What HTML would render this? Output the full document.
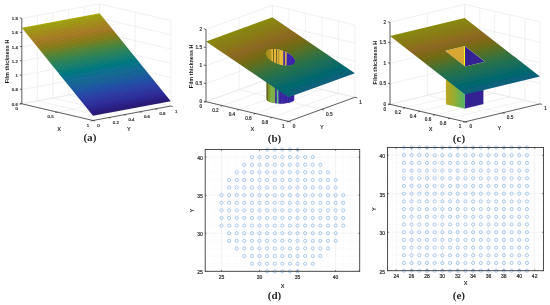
<!DOCTYPE html><html><head><meta charset="utf-8"><style>html,body{margin:0;padding:0;background:#fff;overflow:hidden}svg{display:block}</style></head><body><svg width="550" height="305" viewBox="0 0 550 305"><defs><linearGradient id="ga" gradientUnits="userSpaceOnUse" x1="21.8" y1="27.85" x2="40.02" y2="125.63"><stop offset="0" stop-color="#a8a90e"/><stop offset="0.03" stop-color="#a5a116"/><stop offset="0.06" stop-color="#a5991a"/><stop offset="0.09" stop-color="#a8901e"/><stop offset="0.12" stop-color="#ab8822"/><stop offset="0.16" stop-color="#ab8028"/><stop offset="0.19" stop-color="#a27d25"/><stop offset="0.22" stop-color="#967f1c"/><stop offset="0.25" stop-color="#87821c"/><stop offset="0.28" stop-color="#768525"/><stop offset="0.31" stop-color="#638832"/><stop offset="0.34" stop-color="#508940"/><stop offset="0.38" stop-color="#3e894f"/><stop offset="0.41" stop-color="#2d885d"/><stop offset="0.44" stop-color="#238669"/><stop offset="0.47" stop-color="#1b8373"/><stop offset="0.5" stop-color="#0c807c"/><stop offset="0.53" stop-color="#017c85"/><stop offset="0.56" stop-color="#08788e"/><stop offset="0.59" stop-color="#117395"/><stop offset="0.62" stop-color="#166e99"/><stop offset="0.66" stop-color="#1a679c"/><stop offset="0.69" stop-color="#1d61a1"/><stop offset="0.72" stop-color="#1f5aa7"/><stop offset="0.75" stop-color="#2352aa"/><stop offset="0.78" stop-color="#2a4aab"/><stop offset="0.81" stop-color="#2e42aa"/><stop offset="0.84" stop-color="#303ba6"/><stop offset="0.88" stop-color="#3033a1"/><stop offset="0.91" stop-color="#302c9a"/><stop offset="0.94" stop-color="#2e258f"/><stop offset="0.97" stop-color="#2c1f81"/><stop offset="1" stop-color="#2a1a71"/></linearGradient><clipPath id="holeb"><polygon points="291.75,64.98 292.21,64.79 292.64,64.59 293.04,64.37 293.4,64.12 293.72,63.86 294.01,63.58 294.26,63.29 294.48,62.97 294.65,62.64 294.79,62.3 294.88,61.94 294.94,61.57 294.96,61.19 294.94,60.8 294.87,60.4 294.77,59.99 294.63,59.57 294.45,59.15 294.24,58.72 293.98,58.29 293.69,57.86 293.36,57.42 292.99,56.98 292.59,56.55 292.16,56.12 291.7,55.69 291.2,55.26 290.68,54.84 290.13,54.43 289.55,54.02 288.94,53.63 288.32,53.24 287.67,52.87 287,52.5 286.31,52.16 285.61,51.82 284.89,51.5 284.16,51.2 283.42,50.91 282.68,50.64 281.92,50.39 281.17,50.16 280.41,49.94 279.65,49.75 278.89,49.58 278.14,49.43 277.39,49.3 276.65,49.19 275.93,49.11 275.21,49.05 274.51,49.01 273.82,48.99 273.16,49 272.51,49.03 271.89,49.08 271.29,49.15 270.71,49.25 270.16,49.37 269.64,49.51 269.15,49.67 268.69,49.86 268.26,50.06 267.86,50.28 267.5,50.53 267.18,50.79 266.89,51.07 266.64,51.36 266.42,51.68 266.25,52.01 266.11,52.35 266.02,52.71 265.96,53.08 265.94,53.46 265.96,53.85 266.03,54.25 266.13,54.66 266.27,55.08 266.45,55.5 266.66,55.93 266.92,56.36 267.21,56.79 267.54,57.23 267.91,57.67 268.31,58.1 268.74,58.53 269.2,58.96 269.7,59.39 270.22,59.81 270.77,60.22 271.35,60.63 271.96,61.02 272.58,61.41 273.23,61.78 273.9,62.15 274.59,62.49 275.29,62.83 276.01,63.15 276.74,63.45 277.48,63.74 278.22,64.01 278.98,64.26 279.73,64.49 280.49,64.71 281.25,64.9 282.01,65.07 282.76,65.22 283.51,65.35 284.25,65.46 284.97,65.54 285.69,65.6 286.39,65.64 287.08,65.66 287.74,65.65 288.39,65.62 289.01,65.57 289.61,65.5 290.19,65.4 290.74,65.28 291.26,65.14"/></clipPath><linearGradient id="gb" gradientUnits="userSpaceOnUse" x1="206" y1="41.45" x2="233.51" y2="117.26"><stop offset="0" stop-color="#8a8b0b"/><stop offset="0.03" stop-color="#898710"/><stop offset="0.06" stop-color="#888313"/><stop offset="0.09" stop-color="#887f15"/><stop offset="0.12" stop-color="#897b17"/><stop offset="0.16" stop-color="#8a7719"/><stop offset="0.19" stop-color="#8c731b"/><stop offset="0.22" stop-color="#8d6f1d"/><stop offset="0.25" stop-color="#8d6b20"/><stop offset="0.28" stop-color="#8b6822"/><stop offset="0.31" stop-color="#86671f"/><stop offset="0.34" stop-color="#806819"/><stop offset="0.38" stop-color="#796916"/><stop offset="0.41" stop-color="#726b16"/><stop offset="0.44" stop-color="#6a6c19"/><stop offset="0.47" stop-color="#616e1e"/><stop offset="0.5" stop-color="#586f24"/><stop offset="0.53" stop-color="#4f702c"/><stop offset="0.56" stop-color="#457133"/><stop offset="0.59" stop-color="#3c723a"/><stop offset="0.62" stop-color="#337141"/><stop offset="0.66" stop-color="#2a7148"/><stop offset="0.69" stop-color="#23704f"/><stop offset="0.72" stop-color="#1e6f55"/><stop offset="0.75" stop-color="#1a6d5a"/><stop offset="0.78" stop-color="#166c5f"/><stop offset="0.81" stop-color="#0f6a64"/><stop offset="0.84" stop-color="#076968"/><stop offset="0.88" stop-color="#01676d"/><stop offset="0.91" stop-color="#016671"/><stop offset="0.94" stop-color="#076375"/><stop offset="0.97" stop-color="#0c6179"/><stop offset="1" stop-color="#0f5e7c"/></linearGradient><clipPath id="holec"><polygon points="445.16,50.84 465.17,66.42 485.04,61.66 465.03,46.08"/></clipPath><linearGradient id="gcf" gradientUnits="userSpaceOnUse" x1="446.06" y1="0" x2="464.71" y2="0"><stop offset="0" stop-color="#bea523"/><stop offset="0.12" stop-color="#b3a723"/><stop offset="0.25" stop-color="#a6aa27"/><stop offset="0.38" stop-color="#99ac2f"/><stop offset="0.5" stop-color="#8bae38"/><stop offset="0.62" stop-color="#7db044"/><stop offset="0.75" stop-color="#6eb14f"/><stop offset="0.88" stop-color="#5fb25a"/><stop offset="1" stop-color="#51b266"/></linearGradient><linearGradient id="gc" gradientUnits="userSpaceOnUse" x1="390" y1="35.88" x2="407.35" y2="108.3"><stop offset="0" stop-color="#8a8b0b"/><stop offset="0.03" stop-color="#898710"/><stop offset="0.06" stop-color="#888313"/><stop offset="0.09" stop-color="#887f15"/><stop offset="0.12" stop-color="#897b17"/><stop offset="0.16" stop-color="#8a7719"/><stop offset="0.19" stop-color="#8c731b"/><stop offset="0.22" stop-color="#8d6f1d"/><stop offset="0.25" stop-color="#8d6b20"/><stop offset="0.28" stop-color="#8b6822"/><stop offset="0.31" stop-color="#86671f"/><stop offset="0.34" stop-color="#806819"/><stop offset="0.38" stop-color="#796916"/><stop offset="0.41" stop-color="#726b16"/><stop offset="0.44" stop-color="#6a6c19"/><stop offset="0.47" stop-color="#616e1e"/><stop offset="0.5" stop-color="#586f24"/><stop offset="0.53" stop-color="#4f702c"/><stop offset="0.56" stop-color="#457133"/><stop offset="0.59" stop-color="#3c723a"/><stop offset="0.62" stop-color="#337141"/><stop offset="0.66" stop-color="#2a7148"/><stop offset="0.69" stop-color="#23704f"/><stop offset="0.72" stop-color="#1e6f55"/><stop offset="0.75" stop-color="#1a6d5a"/><stop offset="0.78" stop-color="#166c5f"/><stop offset="0.81" stop-color="#0f6a64"/><stop offset="0.84" stop-color="#076968"/><stop offset="0.88" stop-color="#01676d"/><stop offset="0.91" stop-color="#016671"/><stop offset="0.94" stop-color="#076375"/><stop offset="0.97" stop-color="#0c6179"/><stop offset="1" stop-color="#0f5e7c"/></linearGradient><filter id="bl" x="-2%" y="-2%" width="104%" height="104%"><feGaussianBlur stdDeviation="0.35"/></filter></defs><rect width="550" height="305" fill="#fff"/><g filter="url(#bl)"><line x1="21.8" y1="103.8" x2="99.6" y2="89.3" stroke="#e8e8e8" stroke-width="0.6"/>
<line x1="57.4" y1="112.15" x2="135.2" y2="97.65" stroke="#e8e8e8" stroke-width="0.6"/>
<line x1="93" y1="120.5" x2="170.8" y2="106" stroke="#e8e8e8" stroke-width="0.6"/>
<line x1="21.8" y1="103.8" x2="93" y2="120.5" stroke="#e8e8e8" stroke-width="0.6"/>
<line x1="37.36" y1="100.9" x2="108.56" y2="117.6" stroke="#e8e8e8" stroke-width="0.6"/>
<line x1="52.92" y1="98" x2="124.12" y2="114.7" stroke="#e8e8e8" stroke-width="0.6"/>
<line x1="68.48" y1="95.1" x2="139.68" y2="111.8" stroke="#e8e8e8" stroke-width="0.6"/>
<line x1="84.04" y1="92.2" x2="155.24" y2="108.9" stroke="#e8e8e8" stroke-width="0.6"/>
<line x1="99.6" y1="89.3" x2="170.8" y2="106" stroke="#e8e8e8" stroke-width="0.6"/>
<line x1="21.8" y1="103.8" x2="21.8" y2="18.36" stroke="#e8e8e8" stroke-width="0.6"/>
<line x1="37.36" y1="100.9" x2="37.36" y2="15.46" stroke="#e8e8e8" stroke-width="0.6"/>
<line x1="52.92" y1="98" x2="52.92" y2="12.56" stroke="#e8e8e8" stroke-width="0.6"/>
<line x1="68.48" y1="95.1" x2="68.48" y2="9.66" stroke="#e8e8e8" stroke-width="0.6"/>
<line x1="84.04" y1="92.2" x2="84.04" y2="6.76" stroke="#e8e8e8" stroke-width="0.6"/>
<line x1="99.6" y1="89.3" x2="99.6" y2="3.86" stroke="#e8e8e8" stroke-width="0.6"/>
<line x1="21.8" y1="103.8" x2="99.6" y2="89.3" stroke="#e8e8e8" stroke-width="0.6"/>
<line x1="21.8" y1="89.56" x2="99.6" y2="75.06" stroke="#e8e8e8" stroke-width="0.6"/>
<line x1="21.8" y1="75.32" x2="99.6" y2="60.82" stroke="#e8e8e8" stroke-width="0.6"/>
<line x1="21.8" y1="61.08" x2="99.6" y2="46.58" stroke="#e8e8e8" stroke-width="0.6"/>
<line x1="21.8" y1="46.84" x2="99.6" y2="32.34" stroke="#e8e8e8" stroke-width="0.6"/>
<line x1="21.8" y1="32.6" x2="99.6" y2="18.1" stroke="#e8e8e8" stroke-width="0.6"/>
<line x1="21.8" y1="18.36" x2="99.6" y2="3.86" stroke="#e8e8e8" stroke-width="0.6"/>
<line x1="99.6" y1="89.3" x2="99.6" y2="3.86" stroke="#e8e8e8" stroke-width="0.6"/>
<line x1="135.2" y1="97.65" x2="135.2" y2="12.21" stroke="#e8e8e8" stroke-width="0.6"/>
<line x1="170.8" y1="106" x2="170.8" y2="20.56" stroke="#e8e8e8" stroke-width="0.6"/>
<line x1="99.6" y1="89.3" x2="170.8" y2="106" stroke="#e8e8e8" stroke-width="0.6"/>
<line x1="99.6" y1="75.06" x2="170.8" y2="91.76" stroke="#e8e8e8" stroke-width="0.6"/>
<line x1="99.6" y1="60.82" x2="170.8" y2="77.52" stroke="#e8e8e8" stroke-width="0.6"/>
<line x1="99.6" y1="46.58" x2="170.8" y2="63.28" stroke="#e8e8e8" stroke-width="0.6"/>
<line x1="99.6" y1="32.34" x2="170.8" y2="49.04" stroke="#e8e8e8" stroke-width="0.6"/>
<line x1="99.6" y1="18.1" x2="170.8" y2="34.8" stroke="#e8e8e8" stroke-width="0.6"/>
<line x1="99.6" y1="3.86" x2="170.8" y2="20.56" stroke="#e8e8e8" stroke-width="0.6"/>
<polygon points="21.8,27.85 93,115.75 170.8,101.25 99.6,13.35" fill="url(#ga)"/>
<path d="M23.22,29.61L101.02,15.11M24.65,31.37L102.45,16.87M26.07,33.13L103.87,18.63M27.5,34.89L105.3,20.39M28.92,36.64L106.72,22.14M30.34,38.4L108.14,23.9M31.77,40.16L109.57,25.66M33.19,41.92L110.99,27.42M34.62,43.68L112.42,29.18M36.04,45.43L113.84,30.93M37.46,47.19L115.26,32.69M38.89,48.95L116.69,34.45M40.31,50.71L118.11,36.21M41.74,52.47L119.54,37.97M43.16,54.22L120.96,39.72M44.58,55.98L122.38,41.48M46.01,57.74L123.81,43.24M47.43,59.5L125.23,45M48.86,61.26L126.66,46.76M50.28,63.01L128.08,48.51M51.7,64.77L129.5,50.27M53.13,66.53L130.93,52.03M54.55,68.29L132.35,53.79M55.98,70.05L133.78,55.55M57.4,71.8L135.2,57.3M58.82,73.56L136.62,59.06M60.25,75.32L138.05,60.82M61.67,77.08L139.47,62.58M63.1,78.84L140.9,64.34M64.52,80.59L142.32,66.09M65.94,82.35L143.74,67.85M67.37,84.11L145.17,69.61M68.79,85.87L146.59,71.37M70.22,87.63L148.02,73.13M71.64,89.38L149.44,74.88M73.06,91.14L150.86,76.64M74.49,92.9L152.29,78.4M75.91,94.66L153.71,80.16M77.34,96.42L155.14,81.92M78.76,98.17L156.56,83.67M80.18,99.93L157.98,85.43M81.61,101.69L159.41,87.19M83.03,103.45L160.83,88.95M84.46,105.21L162.26,90.71M85.88,106.96L163.68,92.46M87.3,108.72L165.1,94.22M88.73,110.48L166.53,95.98M90.15,112.24L167.95,97.74M91.58,114L169.38,99.5" stroke="#000" stroke-opacity="0.14" stroke-width="0.5" fill="none"/>
<line x1="21.8" y1="103.8" x2="21.8" y2="18.36" stroke="#3a3a3a" stroke-width="0.8"/>
<line x1="21.8" y1="103.8" x2="93" y2="120.5" stroke="#3a3a3a" stroke-width="0.8"/>
<line x1="93" y1="120.5" x2="170.8" y2="106" stroke="#3a3a3a" stroke-width="0.8"/>
<line x1="21.8" y1="103.8" x2="19.81" y2="103.33" stroke="#3a3a3a" stroke-width="0.75"/>
<line x1="21.8" y1="89.56" x2="19.81" y2="89.09" stroke="#3a3a3a" stroke-width="0.75"/>
<line x1="21.8" y1="75.32" x2="19.81" y2="74.85" stroke="#3a3a3a" stroke-width="0.75"/>
<line x1="21.8" y1="61.08" x2="19.81" y2="60.61" stroke="#3a3a3a" stroke-width="0.75"/>
<line x1="21.8" y1="46.84" x2="19.81" y2="46.37" stroke="#3a3a3a" stroke-width="0.75"/>
<line x1="21.8" y1="32.6" x2="19.81" y2="32.13" stroke="#3a3a3a" stroke-width="0.75"/>
<line x1="21.8" y1="18.36" x2="19.81" y2="17.89" stroke="#3a3a3a" stroke-width="0.75"/>
<line x1="21.8" y1="103.8" x2="19.62" y2="104.21" stroke="#3a3a3a" stroke-width="0.75"/>
<line x1="57.4" y1="112.15" x2="55.22" y2="112.56" stroke="#3a3a3a" stroke-width="0.75"/>
<line x1="93" y1="120.5" x2="90.82" y2="120.91" stroke="#3a3a3a" stroke-width="0.75"/>
<line x1="93" y1="120.5" x2="94.99" y2="120.97" stroke="#3a3a3a" stroke-width="0.75"/>
<line x1="108.56" y1="117.6" x2="110.55" y2="118.07" stroke="#3a3a3a" stroke-width="0.75"/>
<line x1="124.12" y1="114.7" x2="126.11" y2="115.17" stroke="#3a3a3a" stroke-width="0.75"/>
<line x1="139.68" y1="111.8" x2="141.67" y2="112.27" stroke="#3a3a3a" stroke-width="0.75"/>
<line x1="155.24" y1="108.9" x2="157.23" y2="109.37" stroke="#3a3a3a" stroke-width="0.75"/>
<line x1="170.8" y1="106" x2="172.79" y2="106.47" stroke="#3a3a3a" stroke-width="0.75"/>
<line x1="206" y1="101.7" x2="272.4" y2="77.6" stroke="#e8e8e8" stroke-width="0.6"/>
<line x1="222.5" y1="105.64" x2="288.9" y2="81.54" stroke="#e8e8e8" stroke-width="0.6"/>
<line x1="239" y1="109.58" x2="305.4" y2="85.48" stroke="#e8e8e8" stroke-width="0.6"/>
<line x1="255.5" y1="113.52" x2="321.9" y2="89.42" stroke="#e8e8e8" stroke-width="0.6"/>
<line x1="272" y1="117.46" x2="338.4" y2="93.36" stroke="#e8e8e8" stroke-width="0.6"/>
<line x1="288.5" y1="121.4" x2="354.9" y2="97.3" stroke="#e8e8e8" stroke-width="0.6"/>
<line x1="206" y1="101.7" x2="288.5" y2="121.4" stroke="#e8e8e8" stroke-width="0.6"/>
<line x1="239.2" y1="89.65" x2="321.7" y2="109.35" stroke="#e8e8e8" stroke-width="0.6"/>
<line x1="272.4" y1="77.6" x2="354.9" y2="97.3" stroke="#e8e8e8" stroke-width="0.6"/>
<line x1="206" y1="101.7" x2="206" y2="29.4" stroke="#e8e8e8" stroke-width="0.6"/>
<line x1="239.2" y1="89.65" x2="239.2" y2="17.35" stroke="#e8e8e8" stroke-width="0.6"/>
<line x1="272.4" y1="77.6" x2="272.4" y2="5.3" stroke="#e8e8e8" stroke-width="0.6"/>
<line x1="206" y1="101.7" x2="272.4" y2="77.6" stroke="#e8e8e8" stroke-width="0.6"/>
<line x1="206" y1="83.62" x2="272.4" y2="59.52" stroke="#e8e8e8" stroke-width="0.6"/>
<line x1="206" y1="65.55" x2="272.4" y2="41.45" stroke="#e8e8e8" stroke-width="0.6"/>
<line x1="206" y1="47.48" x2="272.4" y2="23.38" stroke="#e8e8e8" stroke-width="0.6"/>
<line x1="206" y1="29.4" x2="272.4" y2="5.3" stroke="#e8e8e8" stroke-width="0.6"/>
<line x1="272.4" y1="77.6" x2="272.4" y2="5.3" stroke="#e8e8e8" stroke-width="0.6"/>
<line x1="288.9" y1="81.54" x2="288.9" y2="9.24" stroke="#e8e8e8" stroke-width="0.6"/>
<line x1="305.4" y1="85.48" x2="305.4" y2="13.18" stroke="#e8e8e8" stroke-width="0.6"/>
<line x1="321.9" y1="89.42" x2="321.9" y2="17.12" stroke="#e8e8e8" stroke-width="0.6"/>
<line x1="338.4" y1="93.36" x2="338.4" y2="21.06" stroke="#e8e8e8" stroke-width="0.6"/>
<line x1="354.9" y1="97.3" x2="354.9" y2="25" stroke="#e8e8e8" stroke-width="0.6"/>
<line x1="272.4" y1="77.6" x2="354.9" y2="97.3" stroke="#e8e8e8" stroke-width="0.6"/>
<line x1="272.4" y1="59.52" x2="354.9" y2="79.23" stroke="#e8e8e8" stroke-width="0.6"/>
<line x1="272.4" y1="41.45" x2="354.9" y2="61.15" stroke="#e8e8e8" stroke-width="0.6"/>
<line x1="272.4" y1="23.38" x2="354.9" y2="43.08" stroke="#e8e8e8" stroke-width="0.6"/>
<line x1="272.4" y1="5.3" x2="354.9" y2="25" stroke="#e8e8e8" stroke-width="0.6"/>
<g clip-path="url(#holeb)">
<polygon points="294.96,61.19 294.95,61 293.63,99.42 293.63,99.52" fill="#3e26a8" stroke="#3e26a8" stroke-width="0.35"/>
<polygon points="294.95,61 294.94,60.8 293.61,99.31 293.63,99.42" fill="#3e26a8" stroke="#3e26a8" stroke-width="0.35"/>
<polygon points="294.94,60.8 294.91,60.6 293.59,99.21 293.61,99.31" fill="#3e26a8" stroke="#3e26a8" stroke-width="0.35"/>
<polygon points="294.91,60.6 294.87,60.4 293.56,99.11 293.59,99.21" fill="#3e26a8" stroke="#3e26a8" stroke-width="0.35"/>
<polygon points="294.87,60.4 294.83,60.2 293.52,99.01 293.56,99.11" fill="#3e26a8" stroke="#3e26a8" stroke-width="0.35"/>
<polygon points="294.83,60.2 294.77,59.99 293.47,98.91 293.52,99.01" fill="#3e26a8" stroke="#3e26a8" stroke-width="0.35"/>
<polygon points="294.77,59.99 294.71,59.78 293.41,98.81 293.47,98.91" fill="#3e26a8" stroke="#3e26a8" stroke-width="0.35"/>
<polygon points="294.71,59.78 294.63,59.57 293.34,98.71 293.41,98.81" fill="#3e26a8" stroke="#3e26a8" stroke-width="0.35"/>
<polygon points="294.63,59.57 294.55,59.36 293.26,98.61 293.34,98.71" fill="#3e26a8" stroke="#3e26a8" stroke-width="0.35"/>
<polygon points="294.55,59.36 294.45,59.15 293.18,98.51 293.26,98.61" fill="#3e26a8" stroke="#3e26a8" stroke-width="0.35"/>
<polygon points="294.45,59.15 294.35,58.94 293.08,98.42 293.18,98.51" fill="#3e26a8" stroke="#3e26a8" stroke-width="0.35"/>
<polygon points="294.35,58.94 294.24,58.72 292.98,98.32 293.08,98.42" fill="#3e26a8" stroke="#3e26a8" stroke-width="0.35"/>
<polygon points="294.24,58.72 294.11,58.51 292.87,98.22 292.98,98.32" fill="#3e26a8" stroke="#3e26a8" stroke-width="0.35"/>
<polygon points="294.11,58.51 293.98,58.29 292.74,98.13 292.87,98.22" fill="#3e26a8" stroke="#3e26a8" stroke-width="0.35"/>
<polygon points="293.98,58.29 293.84,58.07 292.62,98.03 292.74,98.13" fill="#3e26a8" stroke="#3e26a8" stroke-width="0.35"/>
<polygon points="293.84,58.07 293.69,57.86 292.48,97.94 292.62,98.03" fill="#3e26a8" stroke="#3e26a8" stroke-width="0.35"/>
<polygon points="293.69,57.86 293.53,57.64 292.33,97.85 292.48,97.94" fill="#3e26a8" stroke="#3e26a8" stroke-width="0.35"/>
<polygon points="293.53,57.64 293.36,57.42 292.18,97.76 292.33,97.85" fill="#3e26a8" stroke="#3e26a8" stroke-width="0.35"/>
<polygon points="293.36,57.42 293.18,57.2 292.02,97.67 292.18,97.76" fill="#3e26a8" stroke="#3e26a8" stroke-width="0.35"/>
<polygon points="293.18,57.2 292.99,56.98 291.85,97.58 292.02,97.67" fill="#3e26a8" stroke="#3e26a8" stroke-width="0.35"/>
<polygon points="292.99,56.98 292.8,56.77 291.67,97.49 291.85,97.58" fill="#3e26a8" stroke="#3e26a8" stroke-width="0.35"/>
<polygon points="292.8,56.77 292.59,56.55 291.49,97.4 291.67,97.49" fill="#3e26a8" stroke="#3e26a8" stroke-width="0.35"/>
<polygon points="292.59,56.55 292.38,56.33 291.29,97.32 291.49,97.4" fill="#3e26a8" stroke="#3e26a8" stroke-width="0.35"/>
<polygon points="292.38,56.33 292.16,56.12 291.09,97.24 291.29,97.32" fill="#3e26a8" stroke="#3e26a8" stroke-width="0.35"/>
<polygon points="292.16,56.12 291.93,55.9 290.89,97.16 291.09,97.24" fill="#3e26a8" stroke="#3e26a8" stroke-width="0.35"/>
<polygon points="291.93,55.9 291.7,55.69 290.67,97.08 290.89,97.16" fill="#3e26a8" stroke="#3e26a8" stroke-width="0.35"/>
<polygon points="291.7,55.69 291.45,55.47 290.45,97 290.67,97.08" fill="#3e26a8" stroke="#3e26a8" stroke-width="0.35"/>
<polygon points="291.45,55.47 291.2,55.26 290.22,96.92 290.45,97" fill="#3e26a8" stroke="#3e26a8" stroke-width="0.35"/>
<polygon points="291.2,55.26 290.94,55.05 289.99,96.85 290.22,96.92" fill="#3e26a8" stroke="#3e26a8" stroke-width="0.35"/>
<polygon points="290.94,55.05 290.68,54.84 289.75,96.77 289.99,96.85" fill="#3e26a8" stroke="#3e26a8" stroke-width="0.35"/>
<polygon points="290.68,54.84 290.41,54.63 289.5,96.7 289.75,96.77" fill="#3e26a8" stroke="#3e26a8" stroke-width="0.35"/>
<polygon points="290.41,54.63 290.13,54.43 289.24,96.63 289.5,96.7" fill="#3e26a8" stroke="#3e26a8" stroke-width="0.35"/>
<polygon points="290.13,54.43 289.84,54.22 288.98,96.56 289.24,96.63" fill="#3e26a8" stroke="#3e26a8" stroke-width="0.35"/>
<polygon points="289.84,54.22 289.55,54.02 288.72,96.5 288.98,96.56" fill="#3e26a8" stroke="#3e26a8" stroke-width="0.35"/>
<polygon points="289.55,54.02 289.25,53.82 288.45,96.44 288.72,96.5" fill="#3e26a8" stroke="#3e26a8" stroke-width="0.35"/>
<polygon points="289.25,53.82 288.94,53.63 288.17,96.38 288.45,96.44" fill="#3e26a8" stroke="#3e26a8" stroke-width="0.35"/>
<polygon points="288.94,53.63 288.63,53.43 287.89,96.32 288.17,96.38" fill="#3e26a8" stroke="#3e26a8" stroke-width="0.35"/>
<polygon points="288.63,53.43 288.32,53.24 287.6,96.26 287.89,96.32" fill="#3e26a8" stroke="#3e26a8" stroke-width="0.35"/>
<polygon points="288.32,53.24 287.99,53.05 287.31,96.21 287.6,96.26" fill="#3e26a8" stroke="#3e26a8" stroke-width="0.35"/>
<polygon points="287.99,53.05 287.67,52.87 287.01,96.15 287.31,96.21" fill="#3e26a8" stroke="#3e26a8" stroke-width="0.35"/>
<polygon points="287.67,52.87 287.33,52.68 286.71,96.1 287.01,96.15" fill="#3e26a8" stroke="#3e26a8" stroke-width="0.35"/>
<polygon points="287.33,52.68 287,52.5 286.4,96.06 286.71,96.1" fill="#3e26a8" stroke="#3e26a8" stroke-width="0.35"/>
<polygon points="287,52.5 286.66,52.33 286.09,96.01 286.4,96.06" fill="#3e26a8" stroke="#3e26a8" stroke-width="0.35"/>
<polygon points="286.66,52.33 286.31,52.16 285.78,95.97 286.09,96.01" fill="#3e26a8" stroke="#3e26a8" stroke-width="0.35"/>
<polygon points="286.31,52.16 285.96,51.99 285.46,95.93 285.78,95.97" fill="#eaba31" stroke="#eaba31" stroke-width="0.35"/>
<polygon points="285.96,51.99 285.61,51.82 285.14,95.89 285.46,95.93" fill="#eaba31" stroke="#eaba31" stroke-width="0.35"/>
<polygon points="285.61,51.82 285.25,51.66 284.81,95.85 285.14,95.89" fill="#eaba31" stroke="#eaba31" stroke-width="0.35"/>
<polygon points="285.25,51.66 284.89,51.5 284.49,95.82 284.81,95.85" fill="#eaba31" stroke="#eaba31" stroke-width="0.35"/>
<polygon points="284.89,51.5 284.53,51.35 284.16,95.79 284.49,95.82" fill="#3e26a8" stroke="#3e26a8" stroke-width="0.35"/>
<polygon points="284.53,51.35 284.16,51.2 283.82,95.76 284.16,95.79" fill="#3e26a8" stroke="#3e26a8" stroke-width="0.35"/>
<polygon points="284.16,51.2 283.79,51.05 283.49,95.74 283.82,95.76" fill="#3e26a8" stroke="#3e26a8" stroke-width="0.35"/>
<polygon points="283.79,51.05 283.42,50.91 283.15,95.71 283.49,95.74" fill="#3e26a8" stroke="#3e26a8" stroke-width="0.35"/>
<polygon points="283.42,50.91 283.05,50.77 282.81,95.69 283.15,95.71" fill="#3e26a8" stroke="#3e26a8" stroke-width="0.35"/>
<polygon points="283.05,50.77 282.68,50.64 282.47,95.68 282.81,95.69" fill="#eaba31" stroke="#eaba31" stroke-width="0.35"/>
<polygon points="282.68,50.64 282.3,50.51 282.13,95.66 282.47,95.68" fill="#eaba31" stroke="#eaba31" stroke-width="0.35"/>
<polygon points="282.3,50.51 281.92,50.39 281.79,95.65 282.13,95.66" fill="#eaba31" stroke="#eaba31" stroke-width="0.35"/>
<polygon points="281.92,50.39 281.55,50.27 281.45,95.64 281.79,95.65" fill="#eaba31" stroke="#eaba31" stroke-width="0.35"/>
<polygon points="281.55,50.27 281.17,50.16 281.1,95.63 281.45,95.64" fill="#eaba31" stroke="#eaba31" stroke-width="0.35"/>
<polygon points="281.17,50.16 280.79,50.05 280.76,95.63 281.1,95.63" fill="#eaba31" stroke="#eaba31" stroke-width="0.35"/>
<polygon points="280.79,50.05 280.41,49.94 280.41,95.62 280.76,95.63" fill="#eaba31" stroke="#eaba31" stroke-width="0.35"/>
<polygon points="280.41,49.94 280.03,49.85 280.07,95.63 280.41,95.62" fill="#eaba31" stroke="#eaba31" stroke-width="0.35"/>
<polygon points="280.03,49.85 279.65,49.75 279.72,95.63 280.07,95.63" fill="#eaba31" stroke="#eaba31" stroke-width="0.35"/>
<polygon points="279.65,49.75 279.27,49.66 279.38,95.64 279.72,95.63" fill="#eaba31" stroke="#eaba31" stroke-width="0.35"/>
<polygon points="279.27,49.66 278.89,49.58 279.03,95.64 279.38,95.64" fill="#eaba31" stroke="#eaba31" stroke-width="0.35"/>
<polygon points="278.89,49.58 278.51,49.5 278.69,95.66 279.03,95.64" fill="#6a6a30" stroke="#6a6a30" stroke-width="0.35"/>
<polygon points="278.51,49.5 278.14,49.43 278.35,95.67 278.69,95.66" fill="#6a6a30" stroke="#6a6a30" stroke-width="0.35"/>
<polygon points="278.14,49.43 277.76,49.36 278.01,95.69 278.35,95.67" fill="#eaba31" stroke="#eaba31" stroke-width="0.35"/>
<polygon points="277.76,49.36 277.39,49.3 277.67,95.71 278.01,95.69" fill="#eaba31" stroke="#eaba31" stroke-width="0.35"/>
<polygon points="277.39,49.3 277.02,49.24 277.33,95.73 277.67,95.71" fill="#eaba31" stroke="#eaba31" stroke-width="0.35"/>
<polygon points="277.02,49.24 276.65,49.19 277,95.75 277.33,95.73" fill="#eaba31" stroke="#eaba31" stroke-width="0.35"/>
<polygon points="276.65,49.19 276.29,49.15 276.67,95.78 277,95.75" fill="#3a3a20" stroke="#3a3a20" stroke-width="0.35"/>
<polygon points="276.29,49.15 275.93,49.11 276.34,95.81 276.67,95.78" fill="#3a3a20" stroke="#3a3a20" stroke-width="0.35"/>
<polygon points="275.93,49.11 275.57,49.08 276.01,95.84 276.34,95.81" fill="#eaba31" stroke="#eaba31" stroke-width="0.35"/>
<polygon points="275.57,49.08 275.21,49.05 275.69,95.88 276.01,95.84" fill="#eaba31" stroke="#eaba31" stroke-width="0.35"/>
<polygon points="275.21,49.05 274.86,49.03 275.37,95.91 275.69,95.88" fill="#eaba31" stroke="#eaba31" stroke-width="0.35"/>
<polygon points="274.86,49.03 274.51,49.01 275.05,95.95 275.37,95.91" fill="#eaba31" stroke="#eaba31" stroke-width="0.35"/>
<polygon points="274.51,49.01 274.16,49 274.74,95.99 275.05,95.95" fill="#eaba31" stroke="#eaba31" stroke-width="0.35"/>
<polygon points="274.16,49 273.82,48.99 274.43,96.04 274.74,95.99" fill="#eaba31" stroke="#eaba31" stroke-width="0.35"/>
<polygon points="273.82,48.99 273.49,48.99 274.12,96.09 274.43,96.04" fill="#eaba31" stroke="#eaba31" stroke-width="0.35"/>
<polygon points="273.49,48.99 273.16,49 273.82,96.13 274.12,96.09" fill="#3a3a20" stroke="#3a3a20" stroke-width="0.35"/>
<polygon points="273.16,49 272.83,49.01 273.53,96.19 273.82,96.13" fill="#3a3a20" stroke="#3a3a20" stroke-width="0.35"/>
<polygon points="272.83,49.01 272.51,49.03 273.24,96.24 273.53,96.19" fill="#eaba31" stroke="#eaba31" stroke-width="0.35"/>
<polygon points="272.51,49.03 272.2,49.05 272.95,96.3 273.24,96.24" fill="#eaba31" stroke="#eaba31" stroke-width="0.35"/>
<polygon points="272.2,49.05 271.89,49.08 272.67,96.35 272.95,96.3" fill="#eaba31" stroke="#eaba31" stroke-width="0.35"/>
<polygon points="271.89,49.08 271.58,49.11 272.39,96.41 272.67,96.35" fill="#eaba31" stroke="#eaba31" stroke-width="0.35"/>
<polygon points="271.58,49.11 271.29,49.15 272.12,96.48 272.39,96.41" fill="#eaba31" stroke="#eaba31" stroke-width="0.35"/>
<polygon points="271.29,49.15 270.99,49.2 271.86,96.54 272.12,96.48" fill="#eaba31" stroke="#eaba31" stroke-width="0.35"/>
<polygon points="270.99,49.2 270.71,49.25 271.6,96.61 271.86,96.54" fill="#ad9320" stroke="#ad9320" stroke-width="0.35"/>
<polygon points="270.71,49.25 270.43,49.31 271.35,96.68 271.6,96.61" fill="#ad9320" stroke="#ad9320" stroke-width="0.35"/>
<polygon points="270.43,49.31 270.16,49.37 271.1,96.75 271.35,96.68" fill="#ad9320" stroke="#ad9320" stroke-width="0.35"/>
<polygon points="270.16,49.37 269.9,49.44 270.86,96.82 271.1,96.75" fill="#ad9320" stroke="#ad9320" stroke-width="0.35"/>
<polygon points="269.9,49.44 269.64,49.51 270.63,96.89 270.86,96.82" fill="#ad9320" stroke="#ad9320" stroke-width="0.35"/>
<polygon points="269.64,49.51 269.39,49.59 270.4,96.97 270.63,96.89" fill="#ad9320" stroke="#ad9320" stroke-width="0.35"/>
<polygon points="269.39,49.59 269.15,49.67 270.18,97.05 270.4,96.97" fill="#ad9320" stroke="#ad9320" stroke-width="0.35"/>
<polygon points="269.15,49.67 268.91,49.76 269.97,97.13 270.18,97.05" fill="#ad9320" stroke="#ad9320" stroke-width="0.35"/>
<polygon points="268.91,49.76 268.69,49.86 269.76,97.21 269.97,97.13" fill="#ad9320" stroke="#ad9320" stroke-width="0.35"/>
<polygon points="268.69,49.86 268.47,49.96 269.56,97.29 269.76,97.21" fill="#ad9320" stroke="#ad9320" stroke-width="0.35"/>
<polygon points="268.47,49.96 268.26,50.06 269.37,97.37 269.56,97.29" fill="#ad9320" stroke="#ad9320" stroke-width="0.35"/>
<polygon points="268.26,50.06 268.06,50.17 269.19,97.46 269.37,97.37" fill="#ad9320" stroke="#ad9320" stroke-width="0.35"/>
<polygon points="268.06,50.17 267.86,50.28 269.01,97.55 269.19,97.46" fill="#ad9320" stroke="#ad9320" stroke-width="0.35"/>
<polygon points="267.86,50.28 267.68,50.4 268.84,97.64 269.01,97.55" fill="#ad9320" stroke="#ad9320" stroke-width="0.35"/>
<polygon points="267.68,50.4 267.5,50.53 268.68,97.72 268.84,97.64" fill="#ad9320" stroke="#ad9320" stroke-width="0.35"/>
<polygon points="267.5,50.53 267.34,50.66 268.53,97.82 268.68,97.72" fill="#ad9320" stroke="#ad9320" stroke-width="0.35"/>
<polygon points="267.34,50.66 267.18,50.79 268.39,97.91 268.53,97.82" fill="#ad9320" stroke="#ad9320" stroke-width="0.35"/>
<polygon points="267.18,50.79 267.03,50.93 268.25,98 268.39,97.91" fill="#ad9320" stroke="#ad9320" stroke-width="0.35"/>
<polygon points="267.03,50.93 266.89,51.07 268.13,98.09 268.25,98" fill="#ad9320" stroke="#ad9320" stroke-width="0.35"/>
<polygon points="266.89,51.07 266.76,51.21 268.01,98.19 268.13,98.09" fill="#ad9320" stroke="#ad9320" stroke-width="0.35"/>
<polygon points="266.76,51.21 266.64,51.36 267.9,98.29 268.01,98.19" fill="#ad9320" stroke="#ad9320" stroke-width="0.35"/>
<polygon points="266.64,51.36 266.53,51.52 267.8,98.38 267.9,98.29" fill="#ad9320" stroke="#ad9320" stroke-width="0.35"/>
<polygon points="266.53,51.52 266.42,51.68 267.7,98.48 267.8,98.38" fill="#ad9320" stroke="#ad9320" stroke-width="0.35"/>
<polygon points="266.42,51.68 266.33,51.84 267.62,98.58 267.7,98.48" fill="#ad9320" stroke="#ad9320" stroke-width="0.35"/>
<polygon points="266.33,51.84 266.25,52.01 267.55,98.68 267.62,98.58" fill="#ad9320" stroke="#ad9320" stroke-width="0.35"/>
<polygon points="266.25,52.01 266.18,52.18 267.48,98.78 267.55,98.68" fill="#ad9320" stroke="#ad9320" stroke-width="0.35"/>
<polygon points="266.18,52.18 266.11,52.35 267.42,98.88 267.48,98.78" fill="#ad9320" stroke="#ad9320" stroke-width="0.35"/>
<polygon points="266.11,52.35 266.06,52.53 267.37,98.98 267.42,98.88" fill="#ad9320" stroke="#ad9320" stroke-width="0.35"/>
<polygon points="266.06,52.53 266.02,52.71 267.33,99.08 267.37,98.98" fill="#ad9320" stroke="#ad9320" stroke-width="0.35"/>
<polygon points="266.02,52.71 265.98,52.89 267.3,99.18 267.33,99.08" fill="#ad9320" stroke="#ad9320" stroke-width="0.35"/>
<polygon points="265.98,52.89 265.96,53.08 267.28,99.28 267.3,99.18" fill="#ad9320" stroke="#ad9320" stroke-width="0.35"/>
<polygon points="265.96,53.08 265.95,53.26 267.27,99.38 267.28,99.28" fill="#ad9320" stroke="#ad9320" stroke-width="0.35"/>
<polygon points="265.95,53.26 265.94,53.46 267.27,99.48 267.27,99.38" fill="#ad9320" stroke="#ad9320" stroke-width="0.35"/>
</g>
<polygon points="290.72,69.7 290.93,69.62 290.93,101.87 290.72,101.95" fill="#3e26a8" stroke="#3e26a8" stroke-width="0.35"/>
<polygon points="290.93,69.62 291.14,69.53 291.14,101.79 290.93,101.87" fill="#3e26a8" stroke="#3e26a8" stroke-width="0.35"/>
<polygon points="291.14,69.53 291.34,69.44 291.34,101.71 291.14,101.79" fill="#3e26a8" stroke="#3e26a8" stroke-width="0.35"/>
<polygon points="291.34,69.44 291.53,69.35 291.53,101.63 291.34,101.71" fill="#3e26a8" stroke="#3e26a8" stroke-width="0.35"/>
<polygon points="291.53,69.35 291.71,69.25 291.71,101.54 291.53,101.63" fill="#3e26a8" stroke="#3e26a8" stroke-width="0.35"/>
<polygon points="291.71,69.25 291.89,69.15 291.89,101.45 291.71,101.54" fill="#3e26a8" stroke="#3e26a8" stroke-width="0.35"/>
<polygon points="291.89,69.15 292.06,69.04 292.06,101.36 291.89,101.45" fill="#3e26a8" stroke="#3e26a8" stroke-width="0.35"/>
<polygon points="292.06,69.04 292.22,68.93 292.22,101.28 292.06,101.36" fill="#3e26a8" stroke="#3e26a8" stroke-width="0.35"/>
<polygon points="292.22,68.93 292.37,68.81 292.37,101.18 292.22,101.28" fill="#3e26a8" stroke="#3e26a8" stroke-width="0.35"/>
<polygon points="292.37,68.81 292.51,68.69 292.51,101.09 292.37,101.18" fill="#3e26a8" stroke="#3e26a8" stroke-width="0.35"/>
<polygon points="292.51,68.69 292.65,68.56 292.65,101 292.51,101.09" fill="#3e26a8" stroke="#3e26a8" stroke-width="0.35"/>
<polygon points="292.65,68.56 292.77,68.43 292.77,100.91 292.65,101" fill="#3e26a8" stroke="#3e26a8" stroke-width="0.35"/>
<polygon points="292.77,68.43 292.89,68.3 292.89,100.81 292.77,100.91" fill="#3e26a8" stroke="#3e26a8" stroke-width="0.35"/>
<polygon points="292.89,68.3 293,68.16 293,100.71 292.89,100.81" fill="#3e26a8" stroke="#3e26a8" stroke-width="0.35"/>
<polygon points="293,68.16 293.1,68.02 293.1,100.62 293,100.71" fill="#3e26a8" stroke="#3e26a8" stroke-width="0.35"/>
<polygon points="293.1,68.02 293.2,67.88 293.2,100.52 293.1,100.62" fill="#3e26a8" stroke="#3e26a8" stroke-width="0.35"/>
<polygon points="293.2,67.88 293.28,67.73 293.28,100.42 293.2,100.52" fill="#3e26a8" stroke="#3e26a8" stroke-width="0.35"/>
<polygon points="293.28,67.73 293.35,67.58 293.35,100.32 293.28,100.42" fill="#3e26a8" stroke="#3e26a8" stroke-width="0.35"/>
<polygon points="293.35,67.58 293.42,67.43 293.42,100.22 293.35,100.32" fill="#3e26a8" stroke="#3e26a8" stroke-width="0.35"/>
<polygon points="293.42,67.43 293.48,67.27 293.48,100.12 293.42,100.22" fill="#3e26a8" stroke="#3e26a8" stroke-width="0.35"/>
<polygon points="293.48,67.27 293.53,67.11 293.53,100.02 293.48,100.12" fill="#3e26a8" stroke="#3e26a8" stroke-width="0.35"/>
<polygon points="293.53,67.11 293.57,66.94 293.57,99.92 293.53,100.02" fill="#3e26a8" stroke="#3e26a8" stroke-width="0.35"/>
<polygon points="293.57,66.94 293.6,66.78 293.6,99.82 293.57,99.92" fill="#3e26a8" stroke="#3e26a8" stroke-width="0.35"/>
<polygon points="293.6,66.78 293.62,66.61 293.62,99.72 293.6,99.82" fill="#3e26a8" stroke="#3e26a8" stroke-width="0.35"/>
<polygon points="293.62,66.61 293.63,66.44 293.63,99.62 293.62,99.72" fill="#3e26a8" stroke="#3e26a8" stroke-width="0.35"/>
<polygon points="293.63,66.44 293.63,66.26 293.63,99.52 293.63,99.62" fill="#3e26a8" stroke="#3e26a8" stroke-width="0.35"/>
<polygon points="267.27,59.23 267.27,59.41 267.27,99.58 267.27,99.48" fill="#4a5020" stroke="#4a5020" stroke-width="0.35"/>
<polygon points="267.27,59.41 267.29,59.59 267.29,99.69 267.27,99.58" fill="#4a5020" stroke="#4a5020" stroke-width="0.35"/>
<polygon points="267.29,59.59 267.31,59.77 267.31,99.79 267.29,99.69" fill="#4a5020" stroke="#4a5020" stroke-width="0.35"/>
<polygon points="267.31,59.77 267.34,59.95 267.34,99.89 267.31,99.79" fill="#4a5020" stroke="#4a5020" stroke-width="0.35"/>
<polygon points="267.34,59.95 267.38,60.14 267.38,99.99 267.34,99.89" fill="#4a5020" stroke="#4a5020" stroke-width="0.35"/>
<polygon points="267.38,60.14 267.43,60.32 267.43,100.09 267.38,99.99" fill="#4a5020" stroke="#4a5020" stroke-width="0.35"/>
<polygon points="267.43,60.32 267.49,60.51 267.49,100.19 267.43,100.09" fill="#4a5020" stroke="#4a5020" stroke-width="0.35"/>
<polygon points="267.49,60.51 267.56,60.7 267.56,100.29 267.49,100.19" fill="#4a5020" stroke="#4a5020" stroke-width="0.35"/>
<polygon points="267.56,60.7 267.64,60.9 267.64,100.39 267.56,100.29" fill="#4a5020" stroke="#4a5020" stroke-width="0.35"/>
<polygon points="267.64,60.9 267.72,61.09 267.72,100.49 267.64,100.39" fill="#4a5020" stroke="#4a5020" stroke-width="0.35"/>
<polygon points="267.72,61.09 267.82,61.28 267.82,100.58 267.72,100.49" fill="#4a5020" stroke="#4a5020" stroke-width="0.35"/>
<polygon points="267.82,61.28 267.92,61.48 267.92,100.68 267.82,100.58" fill="#4a5020" stroke="#4a5020" stroke-width="0.35"/>
<polygon points="267.92,61.48 268.03,61.67 268.03,100.78 267.92,100.68" fill="#4a5020" stroke="#4a5020" stroke-width="0.35"/>
<polygon points="268.03,61.67 268.16,61.87 268.16,100.87 268.03,100.78" fill="#849428" stroke="#849428" stroke-width="0.35"/>
<polygon points="268.16,61.87 268.28,62.07 268.28,100.97 268.16,100.87" fill="#849428" stroke="#849428" stroke-width="0.35"/>
<polygon points="268.28,62.07 268.42,62.26 268.42,101.06 268.28,100.97" fill="#849428" stroke="#849428" stroke-width="0.35"/>
<polygon points="268.42,62.26 268.57,62.46 268.57,101.15 268.42,101.06" fill="#849428" stroke="#849428" stroke-width="0.35"/>
<polygon points="268.57,62.46 268.72,62.66 268.72,101.24 268.57,101.15" fill="#849428" stroke="#849428" stroke-width="0.35"/>
<polygon points="268.72,62.66 268.88,62.86 268.88,101.33 268.72,101.24" fill="#849428" stroke="#849428" stroke-width="0.35"/>
<polygon points="268.88,62.86 269.05,63.06 269.05,101.42 268.88,101.33" fill="#849428" stroke="#849428" stroke-width="0.35"/>
<polygon points="269.05,63.06 269.23,63.25 269.23,101.51 269.05,101.42" fill="#849428" stroke="#849428" stroke-width="0.35"/>
<polygon points="269.23,63.25 269.41,63.45 269.41,101.6 269.23,101.51" fill="#849428" stroke="#849428" stroke-width="0.35"/>
<polygon points="269.41,63.45 269.61,63.65 269.61,101.68 269.41,101.6" fill="#849428" stroke="#849428" stroke-width="0.35"/>
<polygon points="269.61,63.65 269.81,63.85 269.81,101.76 269.61,101.68" fill="#849428" stroke="#849428" stroke-width="0.35"/>
<polygon points="269.81,63.85 270.01,64.04 270.01,101.84 269.81,101.76" fill="#849428" stroke="#849428" stroke-width="0.35"/>
<polygon points="270.01,64.04 270.23,64.24 270.23,101.92 270.01,101.84" fill="#849428" stroke="#849428" stroke-width="0.35"/>
<polygon points="270.23,64.24 270.45,64.43 270.45,102 270.23,101.92" fill="#7cb246" stroke="#7cb246" stroke-width="0.35"/>
<polygon points="270.45,64.43 270.68,64.62 270.68,102.08 270.45,102" fill="#7cb246" stroke="#7cb246" stroke-width="0.35"/>
<polygon points="270.68,64.62 270.91,64.81 270.91,102.15 270.68,102.08" fill="#7cb246" stroke="#7cb246" stroke-width="0.35"/>
<polygon points="270.91,64.81 271.15,65 271.15,102.23 270.91,102.15" fill="#7cb246" stroke="#7cb246" stroke-width="0.35"/>
<polygon points="271.15,65 271.4,65.19 271.4,102.3 271.15,102.23" fill="#7cb246" stroke="#7cb246" stroke-width="0.35"/>
<polygon points="271.4,65.19 271.66,65.38 271.66,102.37 271.4,102.3" fill="#7cb246" stroke="#7cb246" stroke-width="0.35"/>
<polygon points="271.66,65.38 271.92,65.56 271.92,102.44 271.66,102.37" fill="#7cb246" stroke="#7cb246" stroke-width="0.35"/>
<polygon points="271.92,65.56 272.18,65.75 272.18,102.5 271.92,102.44" fill="#7cb246" stroke="#7cb246" stroke-width="0.35"/>
<polygon points="272.18,65.75 272.45,65.93 272.45,102.56 272.18,102.5" fill="#7cb246" stroke="#7cb246" stroke-width="0.35"/>
<polygon points="272.45,65.93 272.73,66.11 272.73,102.62 272.45,102.56" fill="#7cb246" stroke="#7cb246" stroke-width="0.35"/>
<polygon points="272.73,66.11 273.01,66.28 273.01,102.68 272.73,102.62" fill="#7cb246" stroke="#7cb246" stroke-width="0.35"/>
<polygon points="273.01,66.28 273.3,66.46 273.3,102.74 273.01,102.68" fill="#7cb246" stroke="#7cb246" stroke-width="0.35"/>
<polygon points="273.3,66.46 273.59,66.63 273.59,102.79 273.3,102.74" fill="#7cb246" stroke="#7cb246" stroke-width="0.35"/>
<polygon points="273.59,66.63 273.89,66.8 273.89,102.85 273.59,102.79" fill="#7cb246" stroke="#7cb246" stroke-width="0.35"/>
<polygon points="273.89,66.8 274.19,66.96 274.19,102.9 273.89,102.85" fill="#7cb246" stroke="#7cb246" stroke-width="0.35"/>
<polygon points="274.19,66.96 274.5,67.13 274.5,102.94 274.19,102.9" fill="#7cb246" stroke="#7cb246" stroke-width="0.35"/>
<polygon points="274.5,67.13 274.81,67.29 274.81,102.99 274.5,102.94" fill="#7cb246" stroke="#7cb246" stroke-width="0.35"/>
<polygon points="274.81,67.29 275.12,67.45 275.12,103.03 274.81,102.99" fill="#7cb246" stroke="#7cb246" stroke-width="0.35"/>
<polygon points="275.12,67.45 275.44,67.6 275.44,103.07 275.12,103.03" fill="#7cb246" stroke="#7cb246" stroke-width="0.35"/>
<polygon points="275.44,67.6 275.76,67.75 275.76,103.11 275.44,103.07" fill="#3e26a8" stroke="#3e26a8" stroke-width="0.35"/>
<polygon points="275.76,67.75 276.09,67.9 276.09,103.15 275.76,103.11" fill="#3e26a8" stroke="#3e26a8" stroke-width="0.35"/>
<polygon points="276.09,67.9 276.41,68.04 276.41,103.18 276.09,103.15" fill="#3e26a8" stroke="#3e26a8" stroke-width="0.35"/>
<polygon points="276.41,68.04 276.74,68.18 276.74,103.21 276.41,103.18" fill="#3e26a8" stroke="#3e26a8" stroke-width="0.35"/>
<polygon points="276.74,68.18 277.08,68.32 277.08,103.24 276.74,103.21" fill="#3e26a8" stroke="#3e26a8" stroke-width="0.35"/>
<polygon points="277.08,68.32 277.41,68.45 277.41,103.26 277.08,103.24" fill="#58cc79" stroke="#58cc79" stroke-width="0.35"/>
<polygon points="277.41,68.45 277.75,68.58 277.75,103.29 277.41,103.26" fill="#58cc79" stroke="#58cc79" stroke-width="0.35"/>
<polygon points="277.75,68.58 278.09,68.7 278.09,103.31 277.75,103.29" fill="#58cc79" stroke="#58cc79" stroke-width="0.35"/>
<polygon points="278.09,68.7 278.43,68.82 278.43,103.32 278.09,103.31" fill="#58cc79" stroke="#58cc79" stroke-width="0.35"/>
<polygon points="278.43,68.82 278.77,68.94 278.77,103.34 278.43,103.32" fill="#58cc79" stroke="#58cc79" stroke-width="0.35"/>
<polygon points="278.77,68.94 279.11,69.05 279.11,103.35 278.77,103.34" fill="#3e26a8" stroke="#3e26a8" stroke-width="0.35"/>
<polygon points="279.11,69.05 279.45,69.16 279.45,103.36 279.11,103.35" fill="#3e26a8" stroke="#3e26a8" stroke-width="0.35"/>
<polygon points="279.45,69.16 279.8,69.26 279.8,103.37 279.45,103.36" fill="#3e26a8" stroke="#3e26a8" stroke-width="0.35"/>
<polygon points="279.8,69.26 280.14,69.36 280.14,103.37 279.8,103.37" fill="#3e26a8" stroke="#3e26a8" stroke-width="0.35"/>
<polygon points="280.14,69.36 280.49,69.46 280.49,103.38 280.14,103.37" fill="#3e26a8" stroke="#3e26a8" stroke-width="0.35"/>
<polygon points="280.49,69.46 280.83,69.54 280.83,103.37 280.49,103.38" fill="#311f87" stroke="#311f87" stroke-width="0.35"/>
<polygon points="280.83,69.54 281.18,69.63 281.18,103.37 280.83,103.37" fill="#311f87" stroke="#311f87" stroke-width="0.35"/>
<polygon points="281.18,69.63 281.52,69.71 281.52,103.36 281.18,103.37" fill="#3e26a8" stroke="#3e26a8" stroke-width="0.35"/>
<polygon points="281.52,69.71 281.87,69.79 281.87,103.36 281.52,103.36" fill="#3e26a8" stroke="#3e26a8" stroke-width="0.35"/>
<polygon points="281.87,69.79 282.21,69.86 282.21,103.34 281.87,103.36" fill="#3e26a8" stroke="#3e26a8" stroke-width="0.35"/>
<polygon points="282.21,69.86 282.55,69.92 282.55,103.33 282.21,103.34" fill="#3e26a8" stroke="#3e26a8" stroke-width="0.35"/>
<polygon points="282.55,69.92 282.89,69.98 282.89,103.31 282.55,103.33" fill="#3e26a8" stroke="#3e26a8" stroke-width="0.35"/>
<polygon points="282.89,69.98 283.23,70.04 283.23,103.29 282.89,103.31" fill="#3e26a8" stroke="#3e26a8" stroke-width="0.35"/>
<polygon points="283.23,70.04 283.57,70.09 283.57,103.27 283.23,103.29" fill="#311f87" stroke="#311f87" stroke-width="0.35"/>
<polygon points="283.57,70.09 283.9,70.14 283.9,103.25 283.57,103.27" fill="#311f87" stroke="#311f87" stroke-width="0.35"/>
<polygon points="283.9,70.14 284.23,70.18 284.23,103.22 283.9,103.25" fill="#3e26a8" stroke="#3e26a8" stroke-width="0.35"/>
<polygon points="284.23,70.18 284.56,70.21 284.56,103.19 284.23,103.22" fill="#3e26a8" stroke="#3e26a8" stroke-width="0.35"/>
<polygon points="284.56,70.21 284.89,70.24 284.89,103.16 284.56,103.19" fill="#3e26a8" stroke="#3e26a8" stroke-width="0.35"/>
<polygon points="284.89,70.24 285.21,70.27 285.21,103.12 284.89,103.16" fill="#3e26a8" stroke="#3e26a8" stroke-width="0.35"/>
<polygon points="285.21,70.27 285.53,70.29 285.53,103.09 285.21,103.12" fill="#3e26a8" stroke="#3e26a8" stroke-width="0.35"/>
<polygon points="285.53,70.29 285.85,70.31 285.85,103.05 285.53,103.09" fill="#3e26a8" stroke="#3e26a8" stroke-width="0.35"/>
<polygon points="285.85,70.31 286.16,70.32 286.16,103.01 285.85,103.05" fill="#311f87" stroke="#311f87" stroke-width="0.35"/>
<polygon points="286.16,70.32 286.47,70.32 286.47,102.96 286.16,103.01" fill="#311f87" stroke="#311f87" stroke-width="0.35"/>
<polygon points="286.47,70.32 286.78,70.32 286.78,102.91 286.47,102.96" fill="#3e26a8" stroke="#3e26a8" stroke-width="0.35"/>
<polygon points="286.78,70.32 287.08,70.31 287.08,102.87 286.78,102.91" fill="#3e26a8" stroke="#3e26a8" stroke-width="0.35"/>
<polygon points="287.08,70.31 287.37,70.3 287.37,102.81 287.08,102.87" fill="#3e26a8" stroke="#3e26a8" stroke-width="0.35"/>
<polygon points="287.37,70.3 287.66,70.29 287.66,102.76 287.37,102.81" fill="#3e26a8" stroke="#3e26a8" stroke-width="0.35"/>
<polygon points="287.66,70.29 287.95,70.27 287.95,102.7 287.66,102.76" fill="#3e26a8" stroke="#3e26a8" stroke-width="0.35"/>
<polygon points="287.95,70.27 288.23,70.24 288.23,102.65 287.95,102.7" fill="#3e26a8" stroke="#3e26a8" stroke-width="0.35"/>
<polygon points="288.23,70.24 288.51,70.21 288.51,102.59 288.23,102.65" fill="#3e26a8" stroke="#3e26a8" stroke-width="0.35"/>
<polygon points="288.51,70.21 288.78,70.17 288.78,102.52 288.51,102.59" fill="#3e26a8" stroke="#3e26a8" stroke-width="0.35"/>
<polygon points="288.78,70.17 289.04,70.13 289.04,102.46 288.78,102.52" fill="#311f87" stroke="#311f87" stroke-width="0.35"/>
<polygon points="289.04,70.13 289.3,70.08 289.3,102.39 289.04,102.46" fill="#311f87" stroke="#311f87" stroke-width="0.35"/>
<polygon points="289.3,70.08 289.55,70.03 289.55,102.32 289.3,102.39" fill="#311f87" stroke="#311f87" stroke-width="0.35"/>
<polygon points="289.55,70.03 289.8,69.98 289.8,102.25 289.55,102.32" fill="#3e26a8" stroke="#3e26a8" stroke-width="0.35"/>
<polygon points="289.8,69.98 290.04,69.91 290.04,102.18 289.8,102.25" fill="#3e26a8" stroke="#3e26a8" stroke-width="0.35"/>
<polygon points="290.04,69.91 290.27,69.85 290.27,102.11 290.04,102.18" fill="#3e26a8" stroke="#3e26a8" stroke-width="0.35"/>
<polygon points="290.27,69.85 290.5,69.78 290.5,102.03 290.27,102.11" fill="#3e26a8" stroke="#3e26a8" stroke-width="0.35"/>
<polygon points="290.5,69.78 290.72,69.7 290.72,101.95 290.5,102.03" fill="#3e26a8" stroke="#3e26a8" stroke-width="0.35"/>
<path d="M206,41.45 L288.5,97.3 L354.9,73.2 L272.4,17.35 Z M291.75,64.98 L292.21,64.79 L292.64,64.59 L293.04,64.37 L293.4,64.12 L293.72,63.86 L294.01,63.58 L294.26,63.29 L294.48,62.97 L294.65,62.64 L294.79,62.3 L294.88,61.94 L294.94,61.57 L294.96,61.19 L294.94,60.8 L294.87,60.4 L294.77,59.99 L294.63,59.57 L294.45,59.15 L294.24,58.72 L293.98,58.29 L293.69,57.86 L293.36,57.42 L292.99,56.98 L292.59,56.55 L292.16,56.12 L291.7,55.69 L291.2,55.26 L290.68,54.84 L290.13,54.43 L289.55,54.02 L288.94,53.63 L288.32,53.24 L287.67,52.87 L287,52.5 L286.31,52.16 L285.61,51.82 L284.89,51.5 L284.16,51.2 L283.42,50.91 L282.68,50.64 L281.92,50.39 L281.17,50.16 L280.41,49.94 L279.65,49.75 L278.89,49.58 L278.14,49.43 L277.39,49.3 L276.65,49.19 L275.93,49.11 L275.21,49.05 L274.51,49.01 L273.82,48.99 L273.16,49 L272.51,49.03 L271.89,49.08 L271.29,49.15 L270.71,49.25 L270.16,49.37 L269.64,49.51 L269.15,49.67 L268.69,49.86 L268.26,50.06 L267.86,50.28 L267.5,50.53 L267.18,50.79 L266.89,51.07 L266.64,51.36 L266.42,51.68 L266.25,52.01 L266.11,52.35 L266.02,52.71 L265.96,53.08 L265.94,53.46 L265.96,53.85 L266.03,54.25 L266.13,54.66 L266.27,55.08 L266.45,55.5 L266.66,55.93 L266.92,56.36 L267.21,56.79 L267.54,57.23 L267.91,57.67 L268.31,58.1 L268.74,58.53 L269.2,58.96 L269.7,59.39 L270.22,59.81 L270.77,60.22 L271.35,60.63 L271.96,61.02 L272.58,61.41 L273.23,61.78 L273.9,62.15 L274.59,62.49 L275.29,62.83 L276.01,63.15 L276.74,63.45 L277.48,63.74 L278.22,64.01 L278.98,64.26 L279.73,64.49 L280.49,64.71 L281.25,64.9 L282.01,65.07 L282.76,65.22 L283.51,65.35 L284.25,65.46 L284.97,65.54 L285.69,65.6 L286.39,65.64 L287.08,65.66 L287.74,65.65 L288.39,65.62 L289.01,65.57 L289.61,65.5 L290.19,65.4 L290.74,65.28 L291.26,65.14 Z" fill="url(#gb)" fill-rule="evenodd"/>
<line x1="206" y1="101.7" x2="206" y2="29.4" stroke="#3a3a3a" stroke-width="0.8"/>
<line x1="206" y1="101.7" x2="288.5" y2="121.4" stroke="#3a3a3a" stroke-width="0.8"/>
<line x1="288.5" y1="121.4" x2="354.9" y2="97.3" stroke="#3a3a3a" stroke-width="0.8"/>
<line x1="206" y1="101.7" x2="203.69" y2="101.15" stroke="#3a3a3a" stroke-width="0.75"/>
<line x1="206" y1="83.62" x2="203.69" y2="83.07" stroke="#3a3a3a" stroke-width="0.75"/>
<line x1="206" y1="65.55" x2="203.69" y2="65" stroke="#3a3a3a" stroke-width="0.75"/>
<line x1="206" y1="47.48" x2="203.69" y2="46.92" stroke="#3a3a3a" stroke-width="0.75"/>
<line x1="206" y1="29.4" x2="203.69" y2="28.85" stroke="#3a3a3a" stroke-width="0.75"/>
<line x1="206" y1="101.7" x2="204.14" y2="102.37" stroke="#3a3a3a" stroke-width="0.75"/>
<line x1="222.5" y1="105.64" x2="220.64" y2="106.31" stroke="#3a3a3a" stroke-width="0.75"/>
<line x1="239" y1="109.58" x2="237.14" y2="110.25" stroke="#3a3a3a" stroke-width="0.75"/>
<line x1="255.5" y1="113.52" x2="253.64" y2="114.19" stroke="#3a3a3a" stroke-width="0.75"/>
<line x1="272" y1="117.46" x2="270.14" y2="118.13" stroke="#3a3a3a" stroke-width="0.75"/>
<line x1="288.5" y1="121.4" x2="286.64" y2="122.07" stroke="#3a3a3a" stroke-width="0.75"/>
<line x1="288.5" y1="121.4" x2="290.81" y2="121.95" stroke="#3a3a3a" stroke-width="0.75"/>
<line x1="321.7" y1="109.35" x2="324.01" y2="109.9" stroke="#3a3a3a" stroke-width="0.75"/>
<line x1="354.9" y1="97.3" x2="357.21" y2="97.85" stroke="#3a3a3a" stroke-width="0.75"/>
<line x1="390" y1="104.3" x2="464.7" y2="86.4" stroke="#e8e8e8" stroke-width="0.6"/>
<line x1="405.04" y1="107.8" x2="479.74" y2="89.9" stroke="#e8e8e8" stroke-width="0.6"/>
<line x1="420.08" y1="111.3" x2="494.78" y2="93.4" stroke="#e8e8e8" stroke-width="0.6"/>
<line x1="435.12" y1="114.8" x2="509.82" y2="96.9" stroke="#e8e8e8" stroke-width="0.6"/>
<line x1="450.16" y1="118.3" x2="524.86" y2="100.4" stroke="#e8e8e8" stroke-width="0.6"/>
<line x1="465.2" y1="121.8" x2="539.9" y2="103.9" stroke="#e8e8e8" stroke-width="0.6"/>
<line x1="390" y1="104.3" x2="465.2" y2="121.8" stroke="#e8e8e8" stroke-width="0.6"/>
<line x1="427.35" y1="95.35" x2="502.55" y2="112.85" stroke="#e8e8e8" stroke-width="0.6"/>
<line x1="464.7" y1="86.4" x2="539.9" y2="103.9" stroke="#e8e8e8" stroke-width="0.6"/>
<line x1="390" y1="104.3" x2="390" y2="22.2" stroke="#e8e8e8" stroke-width="0.6"/>
<line x1="427.35" y1="95.35" x2="427.35" y2="13.25" stroke="#e8e8e8" stroke-width="0.6"/>
<line x1="464.7" y1="86.4" x2="464.7" y2="4.3" stroke="#e8e8e8" stroke-width="0.6"/>
<line x1="390" y1="104.3" x2="464.7" y2="86.4" stroke="#e8e8e8" stroke-width="0.6"/>
<line x1="390" y1="83.78" x2="464.7" y2="65.88" stroke="#e8e8e8" stroke-width="0.6"/>
<line x1="390" y1="63.25" x2="464.7" y2="45.35" stroke="#e8e8e8" stroke-width="0.6"/>
<line x1="390" y1="42.73" x2="464.7" y2="24.83" stroke="#e8e8e8" stroke-width="0.6"/>
<line x1="390" y1="22.2" x2="464.7" y2="4.3" stroke="#e8e8e8" stroke-width="0.6"/>
<line x1="464.7" y1="86.4" x2="464.7" y2="4.3" stroke="#e8e8e8" stroke-width="0.6"/>
<line x1="479.74" y1="89.9" x2="479.74" y2="7.8" stroke="#e8e8e8" stroke-width="0.6"/>
<line x1="494.78" y1="93.4" x2="494.78" y2="11.3" stroke="#e8e8e8" stroke-width="0.6"/>
<line x1="509.82" y1="96.9" x2="509.82" y2="14.8" stroke="#e8e8e8" stroke-width="0.6"/>
<line x1="524.86" y1="100.4" x2="524.86" y2="18.3" stroke="#e8e8e8" stroke-width="0.6"/>
<line x1="539.9" y1="103.9" x2="539.9" y2="21.8" stroke="#e8e8e8" stroke-width="0.6"/>
<line x1="464.7" y1="86.4" x2="539.9" y2="103.9" stroke="#e8e8e8" stroke-width="0.6"/>
<line x1="464.7" y1="65.88" x2="539.9" y2="83.38" stroke="#e8e8e8" stroke-width="0.6"/>
<line x1="464.7" y1="45.35" x2="539.9" y2="62.85" stroke="#e8e8e8" stroke-width="0.6"/>
<line x1="464.7" y1="24.83" x2="539.9" y2="42.33" stroke="#e8e8e8" stroke-width="0.6"/>
<line x1="464.7" y1="4.3" x2="539.9" y2="21.8" stroke="#e8e8e8" stroke-width="0.6"/>
<g clip-path="url(#holec)">
<polygon points="445.16,50.84 465.03,46.08 465.03,99.39 445.16,104.15" fill="#d7a730" stroke="#d7a730" stroke-width="0.3"/>
<polygon points="465.03,46.08 485.04,61.66 485.04,104.05 465.03,99.39" fill="#362192" stroke="#362192" stroke-width="0.3"/>
<line x1="464.53" y1="46.08" x2="464.53" y2="99.39" stroke="#f9fb15" stroke-width="1.0"/>
</g>
<polygon points="464.71,71.76 483.24,67.33 483.24,104.05 464.71,108.49" fill="#362192" stroke="#362192" stroke-width="0.3"/>
<polygon points="446.06,57.24 464.71,71.76 464.71,108.49 446.06,104.15" fill="url(#gcf)" stroke="url(#gcf)" stroke-width="0.3"/>
<path d="M390,35.88 L465.2,94.43 L539.9,76.53 L464.7,17.98 Z M445.16,50.84 L465.17,66.42 L485.04,61.66 L465.03,46.08 Z" fill="url(#gc)" fill-rule="evenodd"/>
<line x1="390" y1="104.3" x2="390" y2="22.2" stroke="#3a3a3a" stroke-width="0.8"/>
<line x1="390" y1="104.3" x2="465.2" y2="121.8" stroke="#3a3a3a" stroke-width="0.8"/>
<line x1="465.2" y1="121.8" x2="539.9" y2="103.9" stroke="#3a3a3a" stroke-width="0.8"/>
<line x1="390" y1="104.3" x2="387.89" y2="103.81" stroke="#3a3a3a" stroke-width="0.75"/>
<line x1="390" y1="83.78" x2="387.89" y2="83.28" stroke="#3a3a3a" stroke-width="0.75"/>
<line x1="390" y1="63.25" x2="387.89" y2="62.76" stroke="#3a3a3a" stroke-width="0.75"/>
<line x1="390" y1="42.73" x2="387.89" y2="42.24" stroke="#3a3a3a" stroke-width="0.75"/>
<line x1="390" y1="22.2" x2="387.89" y2="21.71" stroke="#3a3a3a" stroke-width="0.75"/>
<line x1="390" y1="104.3" x2="387.91" y2="104.8" stroke="#3a3a3a" stroke-width="0.75"/>
<line x1="405.04" y1="107.8" x2="402.95" y2="108.3" stroke="#3a3a3a" stroke-width="0.75"/>
<line x1="420.08" y1="111.3" x2="417.99" y2="111.8" stroke="#3a3a3a" stroke-width="0.75"/>
<line x1="435.12" y1="114.8" x2="433.03" y2="115.3" stroke="#3a3a3a" stroke-width="0.75"/>
<line x1="450.16" y1="118.3" x2="448.07" y2="118.8" stroke="#3a3a3a" stroke-width="0.75"/>
<line x1="465.2" y1="121.8" x2="463.11" y2="122.3" stroke="#3a3a3a" stroke-width="0.75"/>
<line x1="465.2" y1="121.8" x2="467.31" y2="122.29" stroke="#3a3a3a" stroke-width="0.75"/>
<line x1="502.55" y1="112.85" x2="504.66" y2="113.34" stroke="#3a3a3a" stroke-width="0.75"/>
<line x1="539.9" y1="103.9" x2="542.01" y2="104.39" stroke="#3a3a3a" stroke-width="0.75"/>
<text x="17.8" y="104" font-family="Liberation Sans, sans-serif" font-size="4.3" font-weight="normal" fill="#333333" text-anchor="end" dominant-baseline="central" stroke="#333333" stroke-width="0.22">0.6</text>
<text x="17.8" y="89.76" font-family="Liberation Sans, sans-serif" font-size="4.3" font-weight="normal" fill="#333333" text-anchor="end" dominant-baseline="central" stroke="#333333" stroke-width="0.22">0.8</text>
<text x="17.8" y="75.52" font-family="Liberation Sans, sans-serif" font-size="4.3" font-weight="normal" fill="#333333" text-anchor="end" dominant-baseline="central" stroke="#333333" stroke-width="0.22">1</text>
<text x="17.8" y="61.28" font-family="Liberation Sans, sans-serif" font-size="4.3" font-weight="normal" fill="#333333" text-anchor="end" dominant-baseline="central" stroke="#333333" stroke-width="0.22">1.2</text>
<text x="17.8" y="47.04" font-family="Liberation Sans, sans-serif" font-size="4.3" font-weight="normal" fill="#333333" text-anchor="end" dominant-baseline="central" stroke="#333333" stroke-width="0.22">1.4</text>
<text x="17.8" y="32.8" font-family="Liberation Sans, sans-serif" font-size="4.3" font-weight="normal" fill="#333333" text-anchor="end" dominant-baseline="central" stroke="#333333" stroke-width="0.22">1.6</text>
<text x="17.8" y="18.56" font-family="Liberation Sans, sans-serif" font-size="4.3" font-weight="normal" fill="#333333" text-anchor="end" dominant-baseline="central" stroke="#333333" stroke-width="0.22">1.8</text>
<text x="18" y="108.5" font-family="Liberation Sans, sans-serif" font-size="4.3" font-weight="normal" fill="#333333" text-anchor="end" dominant-baseline="central" stroke="#333333" stroke-width="0.22">0</text>
<text x="53.6" y="116.85" font-family="Liberation Sans, sans-serif" font-size="4.3" font-weight="normal" fill="#333333" text-anchor="end" dominant-baseline="central" stroke="#333333" stroke-width="0.22">0.5</text>
<text x="89.2" y="125.2" font-family="Liberation Sans, sans-serif" font-size="4.3" font-weight="normal" fill="#333333" text-anchor="end" dominant-baseline="central" stroke="#333333" stroke-width="0.22">1</text>
<text x="97.3" y="125.5" font-family="Liberation Sans, sans-serif" font-size="4.3" font-weight="normal" fill="#333333" text-anchor="start" dominant-baseline="central" stroke="#333333" stroke-width="0.22">0</text>
<text x="112.86" y="122.6" font-family="Liberation Sans, sans-serif" font-size="4.3" font-weight="normal" fill="#333333" text-anchor="start" dominant-baseline="central" stroke="#333333" stroke-width="0.22">0.2</text>
<text x="128.42" y="119.7" font-family="Liberation Sans, sans-serif" font-size="4.3" font-weight="normal" fill="#333333" text-anchor="start" dominant-baseline="central" stroke="#333333" stroke-width="0.22">0.4</text>
<text x="143.98" y="116.8" font-family="Liberation Sans, sans-serif" font-size="4.3" font-weight="normal" fill="#333333" text-anchor="start" dominant-baseline="central" stroke="#333333" stroke-width="0.22">0.6</text>
<text x="159.54" y="113.9" font-family="Liberation Sans, sans-serif" font-size="4.3" font-weight="normal" fill="#333333" text-anchor="start" dominant-baseline="central" stroke="#333333" stroke-width="0.22">0.8</text>
<text x="175.1" y="111" font-family="Liberation Sans, sans-serif" font-size="4.3" font-weight="normal" fill="#333333" text-anchor="start" dominant-baseline="central" stroke="#333333" stroke-width="0.22">1</text>
<text x="6.6" y="61.5" font-family="Liberation Sans, sans-serif" font-size="5.5" font-weight="bold" fill="#1a1a1a" text-anchor="middle" dominant-baseline="central" transform="rotate(-90 6.6 61.5)">Film thickness H</text>
<text x="59" y="128.6" font-family="Liberation Sans, sans-serif" font-size="5.6" font-weight="bold" fill="#333333" text-anchor="middle" dominant-baseline="central">X</text>
<text x="128.8" y="129" font-family="Liberation Sans, sans-serif" font-size="5.6" font-weight="bold" fill="#333333" text-anchor="middle" dominant-baseline="central">Y</text>
<text x="202" y="101.9" font-family="Liberation Sans, sans-serif" font-size="4.7" font-weight="normal" fill="#333333" text-anchor="end" dominant-baseline="central" stroke="#333333" stroke-width="0.22">0</text>
<text x="202" y="83.83" font-family="Liberation Sans, sans-serif" font-size="4.7" font-weight="normal" fill="#333333" text-anchor="end" dominant-baseline="central" stroke="#333333" stroke-width="0.22">0.5</text>
<text x="202" y="65.75" font-family="Liberation Sans, sans-serif" font-size="4.7" font-weight="normal" fill="#333333" text-anchor="end" dominant-baseline="central" stroke="#333333" stroke-width="0.22">1</text>
<text x="202" y="47.68" font-family="Liberation Sans, sans-serif" font-size="4.7" font-weight="normal" fill="#333333" text-anchor="end" dominant-baseline="central" stroke="#333333" stroke-width="0.22">1.5</text>
<text x="202" y="29.6" font-family="Liberation Sans, sans-serif" font-size="4.7" font-weight="normal" fill="#333333" text-anchor="end" dominant-baseline="central" stroke="#333333" stroke-width="0.22">2</text>
<text x="202.2" y="106.4" font-family="Liberation Sans, sans-serif" font-size="4.7" font-weight="normal" fill="#333333" text-anchor="end" dominant-baseline="central" stroke="#333333" stroke-width="0.22">0</text>
<text x="218.7" y="110.34" font-family="Liberation Sans, sans-serif" font-size="4.7" font-weight="normal" fill="#333333" text-anchor="end" dominant-baseline="central" stroke="#333333" stroke-width="0.22">0.2</text>
<text x="235.2" y="114.28" font-family="Liberation Sans, sans-serif" font-size="4.7" font-weight="normal" fill="#333333" text-anchor="end" dominant-baseline="central" stroke="#333333" stroke-width="0.22">0.4</text>
<text x="251.7" y="118.22" font-family="Liberation Sans, sans-serif" font-size="4.7" font-weight="normal" fill="#333333" text-anchor="end" dominant-baseline="central" stroke="#333333" stroke-width="0.22">0.6</text>
<text x="268.2" y="122.16" font-family="Liberation Sans, sans-serif" font-size="4.7" font-weight="normal" fill="#333333" text-anchor="end" dominant-baseline="central" stroke="#333333" stroke-width="0.22">0.8</text>
<text x="284.7" y="126.1" font-family="Liberation Sans, sans-serif" font-size="4.7" font-weight="normal" fill="#333333" text-anchor="end" dominant-baseline="central" stroke="#333333" stroke-width="0.22">1</text>
<text x="292.8" y="126.4" font-family="Liberation Sans, sans-serif" font-size="4.7" font-weight="normal" fill="#333333" text-anchor="start" dominant-baseline="central" stroke="#333333" stroke-width="0.22">0</text>
<text x="326" y="114.35" font-family="Liberation Sans, sans-serif" font-size="4.7" font-weight="normal" fill="#333333" text-anchor="start" dominant-baseline="central" stroke="#333333" stroke-width="0.22">0.5</text>
<text x="359.2" y="102.3" font-family="Liberation Sans, sans-serif" font-size="4.7" font-weight="normal" fill="#333333" text-anchor="start" dominant-baseline="central" stroke="#333333" stroke-width="0.22">1</text>
<text x="190.9" y="66.3" font-family="Liberation Sans, sans-serif" font-size="5.5" font-weight="bold" fill="#1a1a1a" text-anchor="middle" dominant-baseline="central" transform="rotate(-90 190.9 66.3)">Film thickness H</text>
<text x="252.4" y="128.6" font-family="Liberation Sans, sans-serif" font-size="5.6" font-weight="bold" fill="#333333" text-anchor="middle" dominant-baseline="central">X</text>
<text x="321.8" y="126.9" font-family="Liberation Sans, sans-serif" font-size="5.6" font-weight="bold" fill="#333333" text-anchor="middle" dominant-baseline="central">Y</text>
<text x="386" y="104.5" font-family="Liberation Sans, sans-serif" font-size="4.7" font-weight="normal" fill="#333333" text-anchor="end" dominant-baseline="central" stroke="#333333" stroke-width="0.22">0</text>
<text x="386" y="83.98" font-family="Liberation Sans, sans-serif" font-size="4.7" font-weight="normal" fill="#333333" text-anchor="end" dominant-baseline="central" stroke="#333333" stroke-width="0.22">0.5</text>
<text x="386" y="63.45" font-family="Liberation Sans, sans-serif" font-size="4.7" font-weight="normal" fill="#333333" text-anchor="end" dominant-baseline="central" stroke="#333333" stroke-width="0.22">1</text>
<text x="386" y="42.93" font-family="Liberation Sans, sans-serif" font-size="4.7" font-weight="normal" fill="#333333" text-anchor="end" dominant-baseline="central" stroke="#333333" stroke-width="0.22">1.5</text>
<text x="386" y="22.4" font-family="Liberation Sans, sans-serif" font-size="4.7" font-weight="normal" fill="#333333" text-anchor="end" dominant-baseline="central" stroke="#333333" stroke-width="0.22">2</text>
<text x="386.2" y="109" font-family="Liberation Sans, sans-serif" font-size="4.7" font-weight="normal" fill="#333333" text-anchor="end" dominant-baseline="central" stroke="#333333" stroke-width="0.22">0</text>
<text x="401.24" y="112.5" font-family="Liberation Sans, sans-serif" font-size="4.7" font-weight="normal" fill="#333333" text-anchor="end" dominant-baseline="central" stroke="#333333" stroke-width="0.22">0.2</text>
<text x="416.28" y="116" font-family="Liberation Sans, sans-serif" font-size="4.7" font-weight="normal" fill="#333333" text-anchor="end" dominant-baseline="central" stroke="#333333" stroke-width="0.22">0.4</text>
<text x="431.32" y="119.5" font-family="Liberation Sans, sans-serif" font-size="4.7" font-weight="normal" fill="#333333" text-anchor="end" dominant-baseline="central" stroke="#333333" stroke-width="0.22">0.6</text>
<text x="446.36" y="123" font-family="Liberation Sans, sans-serif" font-size="4.7" font-weight="normal" fill="#333333" text-anchor="end" dominant-baseline="central" stroke="#333333" stroke-width="0.22">0.8</text>
<text x="461.4" y="126.5" font-family="Liberation Sans, sans-serif" font-size="4.7" font-weight="normal" fill="#333333" text-anchor="end" dominant-baseline="central" stroke="#333333" stroke-width="0.22">1</text>
<text x="469.5" y="126.8" font-family="Liberation Sans, sans-serif" font-size="4.7" font-weight="normal" fill="#333333" text-anchor="start" dominant-baseline="central" stroke="#333333" stroke-width="0.22">0</text>
<text x="506.85" y="117.85" font-family="Liberation Sans, sans-serif" font-size="4.7" font-weight="normal" fill="#333333" text-anchor="start" dominant-baseline="central" stroke="#333333" stroke-width="0.22">0.5</text>
<text x="544.2" y="108.9" font-family="Liberation Sans, sans-serif" font-size="4.7" font-weight="normal" fill="#333333" text-anchor="start" dominant-baseline="central" stroke="#333333" stroke-width="0.22">1</text>
<text x="375.3" y="62.6" font-family="Liberation Sans, sans-serif" font-size="5.5" font-weight="bold" fill="#1a1a1a" text-anchor="middle" dominant-baseline="central" transform="rotate(-90 375.3 62.6)">Film thickness H</text>
<text x="430.5" y="128.5" font-family="Liberation Sans, sans-serif" font-size="5.6" font-weight="bold" fill="#333333" text-anchor="middle" dominant-baseline="central">X</text>
<text x="499.3" y="127.6" font-family="Liberation Sans, sans-serif" font-size="5.6" font-weight="bold" fill="#333333" text-anchor="middle" dominant-baseline="central">Y</text>
<text x="89.9" y="137.1" font-family="Liberation Serif, sans-serif" font-size="11.1" font-weight="bold" fill="#2a2a2a" text-anchor="middle" dominant-baseline="central">(a)</text>
<text x="274.5" y="137.9" font-family="Liberation Serif, sans-serif" font-size="11.1" font-weight="bold" fill="#2a2a2a" text-anchor="middle" dominant-baseline="central">(b)</text>
<text x="459" y="137.6" font-family="Liberation Serif, sans-serif" font-size="11.1" font-weight="bold" fill="#2a2a2a" text-anchor="middle" dominant-baseline="central">(c)</text>
<text x="274.5" y="294.8" font-family="Liberation Serif, sans-serif" font-size="11.1" font-weight="bold" fill="#2a2a2a" text-anchor="middle" dominant-baseline="central">(d)</text>
<text x="458.9" y="294.7" font-family="Liberation Serif, sans-serif" font-size="11.1" font-weight="bold" fill="#2a2a2a" text-anchor="middle" dominant-baseline="central">(e)</text>
<line x1="206.26" y1="149.5" x2="206.26" y2="271.3" stroke="#eeeeee" stroke-width="0.5" stroke-dasharray="0.6 0.9"/>
<line x1="213.87" y1="149.5" x2="213.87" y2="271.3" stroke="#eeeeee" stroke-width="0.5" stroke-dasharray="0.6 0.9"/>
<line x1="229.09" y1="149.5" x2="229.09" y2="271.3" stroke="#eeeeee" stroke-width="0.5" stroke-dasharray="0.6 0.9"/>
<line x1="236.69" y1="149.5" x2="236.69" y2="271.3" stroke="#eeeeee" stroke-width="0.5" stroke-dasharray="0.6 0.9"/>
<line x1="244.3" y1="149.5" x2="244.3" y2="271.3" stroke="#eeeeee" stroke-width="0.5" stroke-dasharray="0.6 0.9"/>
<line x1="251.91" y1="149.5" x2="251.91" y2="271.3" stroke="#eeeeee" stroke-width="0.5" stroke-dasharray="0.6 0.9"/>
<line x1="267.12" y1="149.5" x2="267.12" y2="271.3" stroke="#eeeeee" stroke-width="0.5" stroke-dasharray="0.6 0.9"/>
<line x1="274.73" y1="149.5" x2="274.73" y2="271.3" stroke="#eeeeee" stroke-width="0.5" stroke-dasharray="0.6 0.9"/>
<line x1="282.34" y1="149.5" x2="282.34" y2="271.3" stroke="#eeeeee" stroke-width="0.5" stroke-dasharray="0.6 0.9"/>
<line x1="289.94" y1="149.5" x2="289.94" y2="271.3" stroke="#eeeeee" stroke-width="0.5" stroke-dasharray="0.6 0.9"/>
<line x1="305.16" y1="149.5" x2="305.16" y2="271.3" stroke="#eeeeee" stroke-width="0.5" stroke-dasharray="0.6 0.9"/>
<line x1="312.76" y1="149.5" x2="312.76" y2="271.3" stroke="#eeeeee" stroke-width="0.5" stroke-dasharray="0.6 0.9"/>
<line x1="320.37" y1="149.5" x2="320.37" y2="271.3" stroke="#eeeeee" stroke-width="0.5" stroke-dasharray="0.6 0.9"/>
<line x1="327.98" y1="149.5" x2="327.98" y2="271.3" stroke="#eeeeee" stroke-width="0.5" stroke-dasharray="0.6 0.9"/>
<line x1="343.19" y1="149.5" x2="343.19" y2="271.3" stroke="#eeeeee" stroke-width="0.5" stroke-dasharray="0.6 0.9"/>
<line x1="350.8" y1="149.5" x2="350.8" y2="271.3" stroke="#eeeeee" stroke-width="0.5" stroke-dasharray="0.6 0.9"/>
<line x1="358.41" y1="149.5" x2="358.41" y2="271.3" stroke="#eeeeee" stroke-width="0.5" stroke-dasharray="0.6 0.9"/>
<line x1="205.2" y1="263.69" x2="359.7" y2="263.69" stroke="#eeeeee" stroke-width="0.5" stroke-dasharray="0.6 0.9"/>
<line x1="205.2" y1="256.07" x2="359.7" y2="256.07" stroke="#eeeeee" stroke-width="0.5" stroke-dasharray="0.6 0.9"/>
<line x1="205.2" y1="248.46" x2="359.7" y2="248.46" stroke="#eeeeee" stroke-width="0.5" stroke-dasharray="0.6 0.9"/>
<line x1="205.2" y1="240.85" x2="359.7" y2="240.85" stroke="#eeeeee" stroke-width="0.5" stroke-dasharray="0.6 0.9"/>
<line x1="205.2" y1="225.62" x2="359.7" y2="225.62" stroke="#eeeeee" stroke-width="0.5" stroke-dasharray="0.6 0.9"/>
<line x1="205.2" y1="218.01" x2="359.7" y2="218.01" stroke="#eeeeee" stroke-width="0.5" stroke-dasharray="0.6 0.9"/>
<line x1="205.2" y1="210.4" x2="359.7" y2="210.4" stroke="#eeeeee" stroke-width="0.5" stroke-dasharray="0.6 0.9"/>
<line x1="205.2" y1="202.79" x2="359.7" y2="202.79" stroke="#eeeeee" stroke-width="0.5" stroke-dasharray="0.6 0.9"/>
<line x1="205.2" y1="187.56" x2="359.7" y2="187.56" stroke="#eeeeee" stroke-width="0.5" stroke-dasharray="0.6 0.9"/>
<line x1="205.2" y1="179.95" x2="359.7" y2="179.95" stroke="#eeeeee" stroke-width="0.5" stroke-dasharray="0.6 0.9"/>
<line x1="205.2" y1="172.34" x2="359.7" y2="172.34" stroke="#eeeeee" stroke-width="0.5" stroke-dasharray="0.6 0.9"/>
<line x1="205.2" y1="164.72" x2="359.7" y2="164.72" stroke="#eeeeee" stroke-width="0.5" stroke-dasharray="0.6 0.9"/>
<line x1="205.2" y1="149.5" x2="359.7" y2="149.5" stroke="#eeeeee" stroke-width="0.5" stroke-dasharray="0.6 0.9"/>
<line x1="221.48" y1="149.5" x2="221.48" y2="271.3" stroke="#e8e8e8" stroke-width="0.5"/>
<line x1="259.51" y1="149.5" x2="259.51" y2="271.3" stroke="#e8e8e8" stroke-width="0.5"/>
<line x1="297.55" y1="149.5" x2="297.55" y2="271.3" stroke="#e8e8e8" stroke-width="0.5"/>
<line x1="335.59" y1="149.5" x2="335.59" y2="271.3" stroke="#e8e8e8" stroke-width="0.5"/>
<line x1="205.2" y1="271.3" x2="359.7" y2="271.3" stroke="#e8e8e8" stroke-width="0.5"/>
<line x1="205.2" y1="233.24" x2="359.7" y2="233.24" stroke="#e8e8e8" stroke-width="0.5"/>
<line x1="205.2" y1="195.18" x2="359.7" y2="195.18" stroke="#e8e8e8" stroke-width="0.5"/>
<line x1="205.2" y1="157.11" x2="359.7" y2="157.11" stroke="#e8e8e8" stroke-width="0.5"/>
<circle cx="221.48" cy="225.62" r="1.6" fill="none" stroke="#8dbae6" stroke-width="0.75"/>
<circle cx="221.48" cy="218.01" r="1.6" fill="none" stroke="#8dbae6" stroke-width="0.75"/>
<circle cx="221.48" cy="210.4" r="1.6" fill="none" stroke="#8dbae6" stroke-width="0.75"/>
<circle cx="221.48" cy="202.79" r="1.6" fill="none" stroke="#8dbae6" stroke-width="0.75"/>
<circle cx="221.48" cy="195.18" r="1.6" fill="none" stroke="#8dbae6" stroke-width="0.75"/>
<circle cx="229.09" cy="240.85" r="1.6" fill="none" stroke="#8dbae6" stroke-width="0.75"/>
<circle cx="229.09" cy="233.24" r="1.6" fill="none" stroke="#8dbae6" stroke-width="0.75"/>
<circle cx="229.09" cy="225.62" r="1.6" fill="none" stroke="#8dbae6" stroke-width="0.75"/>
<circle cx="229.09" cy="218.01" r="1.6" fill="none" stroke="#8dbae6" stroke-width="0.75"/>
<circle cx="229.09" cy="210.4" r="1.6" fill="none" stroke="#8dbae6" stroke-width="0.75"/>
<circle cx="229.09" cy="202.79" r="1.6" fill="none" stroke="#8dbae6" stroke-width="0.75"/>
<circle cx="229.09" cy="195.18" r="1.6" fill="none" stroke="#8dbae6" stroke-width="0.75"/>
<circle cx="229.09" cy="187.56" r="1.6" fill="none" stroke="#8dbae6" stroke-width="0.75"/>
<circle cx="229.09" cy="179.95" r="1.6" fill="none" stroke="#8dbae6" stroke-width="0.75"/>
<circle cx="236.69" cy="248.46" r="1.6" fill="none" stroke="#8dbae6" stroke-width="0.75"/>
<circle cx="236.69" cy="240.85" r="1.6" fill="none" stroke="#8dbae6" stroke-width="0.75"/>
<circle cx="236.69" cy="233.24" r="1.6" fill="none" stroke="#8dbae6" stroke-width="0.75"/>
<circle cx="236.69" cy="225.62" r="1.6" fill="none" stroke="#8dbae6" stroke-width="0.75"/>
<circle cx="236.69" cy="218.01" r="1.6" fill="none" stroke="#8dbae6" stroke-width="0.75"/>
<circle cx="236.69" cy="210.4" r="1.6" fill="none" stroke="#8dbae6" stroke-width="0.75"/>
<circle cx="236.69" cy="202.79" r="1.6" fill="none" stroke="#8dbae6" stroke-width="0.75"/>
<circle cx="236.69" cy="195.18" r="1.6" fill="none" stroke="#8dbae6" stroke-width="0.75"/>
<circle cx="236.69" cy="187.56" r="1.6" fill="none" stroke="#8dbae6" stroke-width="0.75"/>
<circle cx="236.69" cy="179.95" r="1.6" fill="none" stroke="#8dbae6" stroke-width="0.75"/>
<circle cx="236.69" cy="172.34" r="1.6" fill="none" stroke="#8dbae6" stroke-width="0.75"/>
<circle cx="244.3" cy="256.07" r="1.6" fill="none" stroke="#8dbae6" stroke-width="0.75"/>
<circle cx="244.3" cy="248.46" r="1.6" fill="none" stroke="#8dbae6" stroke-width="0.75"/>
<circle cx="244.3" cy="240.85" r="1.6" fill="none" stroke="#8dbae6" stroke-width="0.75"/>
<circle cx="244.3" cy="233.24" r="1.6" fill="none" stroke="#8dbae6" stroke-width="0.75"/>
<circle cx="244.3" cy="225.62" r="1.6" fill="none" stroke="#8dbae6" stroke-width="0.75"/>
<circle cx="244.3" cy="218.01" r="1.6" fill="none" stroke="#8dbae6" stroke-width="0.75"/>
<circle cx="244.3" cy="210.4" r="1.6" fill="none" stroke="#8dbae6" stroke-width="0.75"/>
<circle cx="244.3" cy="202.79" r="1.6" fill="none" stroke="#8dbae6" stroke-width="0.75"/>
<circle cx="244.3" cy="195.18" r="1.6" fill="none" stroke="#8dbae6" stroke-width="0.75"/>
<circle cx="244.3" cy="187.56" r="1.6" fill="none" stroke="#8dbae6" stroke-width="0.75"/>
<circle cx="244.3" cy="179.95" r="1.6" fill="none" stroke="#8dbae6" stroke-width="0.75"/>
<circle cx="244.3" cy="172.34" r="1.6" fill="none" stroke="#8dbae6" stroke-width="0.75"/>
<circle cx="244.3" cy="164.72" r="1.6" fill="none" stroke="#8dbae6" stroke-width="0.75"/>
<circle cx="251.91" cy="263.69" r="1.6" fill="none" stroke="#8dbae6" stroke-width="0.75"/>
<circle cx="251.91" cy="256.07" r="1.6" fill="none" stroke="#8dbae6" stroke-width="0.75"/>
<circle cx="251.91" cy="248.46" r="1.6" fill="none" stroke="#8dbae6" stroke-width="0.75"/>
<circle cx="251.91" cy="240.85" r="1.6" fill="none" stroke="#8dbae6" stroke-width="0.75"/>
<circle cx="251.91" cy="233.24" r="1.6" fill="none" stroke="#8dbae6" stroke-width="0.75"/>
<circle cx="251.91" cy="225.62" r="1.6" fill="none" stroke="#8dbae6" stroke-width="0.75"/>
<circle cx="251.91" cy="218.01" r="1.6" fill="none" stroke="#8dbae6" stroke-width="0.75"/>
<circle cx="251.91" cy="210.4" r="1.6" fill="none" stroke="#8dbae6" stroke-width="0.75"/>
<circle cx="251.91" cy="202.79" r="1.6" fill="none" stroke="#8dbae6" stroke-width="0.75"/>
<circle cx="251.91" cy="195.18" r="1.6" fill="none" stroke="#8dbae6" stroke-width="0.75"/>
<circle cx="251.91" cy="187.56" r="1.6" fill="none" stroke="#8dbae6" stroke-width="0.75"/>
<circle cx="251.91" cy="179.95" r="1.6" fill="none" stroke="#8dbae6" stroke-width="0.75"/>
<circle cx="251.91" cy="172.34" r="1.6" fill="none" stroke="#8dbae6" stroke-width="0.75"/>
<circle cx="251.91" cy="164.72" r="1.6" fill="none" stroke="#8dbae6" stroke-width="0.75"/>
<circle cx="251.91" cy="157.11" r="1.6" fill="none" stroke="#8dbae6" stroke-width="0.75"/>
<circle cx="259.51" cy="263.69" r="1.6" fill="none" stroke="#8dbae6" stroke-width="0.75"/>
<circle cx="259.51" cy="256.07" r="1.6" fill="none" stroke="#8dbae6" stroke-width="0.75"/>
<circle cx="259.51" cy="248.46" r="1.6" fill="none" stroke="#8dbae6" stroke-width="0.75"/>
<circle cx="259.51" cy="240.85" r="1.6" fill="none" stroke="#8dbae6" stroke-width="0.75"/>
<circle cx="259.51" cy="233.24" r="1.6" fill="none" stroke="#8dbae6" stroke-width="0.75"/>
<circle cx="259.51" cy="225.62" r="1.6" fill="none" stroke="#8dbae6" stroke-width="0.75"/>
<circle cx="259.51" cy="218.01" r="1.6" fill="none" stroke="#8dbae6" stroke-width="0.75"/>
<circle cx="259.51" cy="210.4" r="1.6" fill="none" stroke="#8dbae6" stroke-width="0.75"/>
<circle cx="259.51" cy="202.79" r="1.6" fill="none" stroke="#8dbae6" stroke-width="0.75"/>
<circle cx="259.51" cy="195.18" r="1.6" fill="none" stroke="#8dbae6" stroke-width="0.75"/>
<circle cx="259.51" cy="187.56" r="1.6" fill="none" stroke="#8dbae6" stroke-width="0.75"/>
<circle cx="259.51" cy="179.95" r="1.6" fill="none" stroke="#8dbae6" stroke-width="0.75"/>
<circle cx="259.51" cy="172.34" r="1.6" fill="none" stroke="#8dbae6" stroke-width="0.75"/>
<circle cx="259.51" cy="164.72" r="1.6" fill="none" stroke="#8dbae6" stroke-width="0.75"/>
<circle cx="259.51" cy="157.11" r="1.6" fill="none" stroke="#8dbae6" stroke-width="0.75"/>
<circle cx="267.12" cy="271.3" r="1.6" fill="none" stroke="#8dbae6" stroke-width="0.75"/>
<circle cx="267.12" cy="263.69" r="1.6" fill="none" stroke="#8dbae6" stroke-width="0.75"/>
<circle cx="267.12" cy="256.07" r="1.6" fill="none" stroke="#8dbae6" stroke-width="0.75"/>
<circle cx="267.12" cy="248.46" r="1.6" fill="none" stroke="#8dbae6" stroke-width="0.75"/>
<circle cx="267.12" cy="240.85" r="1.6" fill="none" stroke="#8dbae6" stroke-width="0.75"/>
<circle cx="267.12" cy="233.24" r="1.6" fill="none" stroke="#8dbae6" stroke-width="0.75"/>
<circle cx="267.12" cy="225.62" r="1.6" fill="none" stroke="#8dbae6" stroke-width="0.75"/>
<circle cx="267.12" cy="218.01" r="1.6" fill="none" stroke="#8dbae6" stroke-width="0.75"/>
<circle cx="267.12" cy="210.4" r="1.6" fill="none" stroke="#8dbae6" stroke-width="0.75"/>
<circle cx="267.12" cy="202.79" r="1.6" fill="none" stroke="#8dbae6" stroke-width="0.75"/>
<circle cx="267.12" cy="195.18" r="1.6" fill="none" stroke="#8dbae6" stroke-width="0.75"/>
<circle cx="267.12" cy="187.56" r="1.6" fill="none" stroke="#8dbae6" stroke-width="0.75"/>
<circle cx="267.12" cy="179.95" r="1.6" fill="none" stroke="#8dbae6" stroke-width="0.75"/>
<circle cx="267.12" cy="172.34" r="1.6" fill="none" stroke="#8dbae6" stroke-width="0.75"/>
<circle cx="267.12" cy="164.72" r="1.6" fill="none" stroke="#8dbae6" stroke-width="0.75"/>
<circle cx="267.12" cy="157.11" r="1.6" fill="none" stroke="#8dbae6" stroke-width="0.75"/>
<circle cx="267.12" cy="149.5" r="1.6" fill="none" stroke="#8dbae6" stroke-width="0.75"/>
<circle cx="274.73" cy="271.3" r="1.6" fill="none" stroke="#8dbae6" stroke-width="0.75"/>
<circle cx="274.73" cy="263.69" r="1.6" fill="none" stroke="#8dbae6" stroke-width="0.75"/>
<circle cx="274.73" cy="256.07" r="1.6" fill="none" stroke="#8dbae6" stroke-width="0.75"/>
<circle cx="274.73" cy="248.46" r="1.6" fill="none" stroke="#8dbae6" stroke-width="0.75"/>
<circle cx="274.73" cy="240.85" r="1.6" fill="none" stroke="#8dbae6" stroke-width="0.75"/>
<circle cx="274.73" cy="233.24" r="1.6" fill="none" stroke="#8dbae6" stroke-width="0.75"/>
<circle cx="274.73" cy="225.62" r="1.6" fill="none" stroke="#8dbae6" stroke-width="0.75"/>
<circle cx="274.73" cy="218.01" r="1.6" fill="none" stroke="#8dbae6" stroke-width="0.75"/>
<circle cx="274.73" cy="210.4" r="1.6" fill="none" stroke="#8dbae6" stroke-width="0.75"/>
<circle cx="274.73" cy="202.79" r="1.6" fill="none" stroke="#8dbae6" stroke-width="0.75"/>
<circle cx="274.73" cy="195.18" r="1.6" fill="none" stroke="#8dbae6" stroke-width="0.75"/>
<circle cx="274.73" cy="187.56" r="1.6" fill="none" stroke="#8dbae6" stroke-width="0.75"/>
<circle cx="274.73" cy="179.95" r="1.6" fill="none" stroke="#8dbae6" stroke-width="0.75"/>
<circle cx="274.73" cy="172.34" r="1.6" fill="none" stroke="#8dbae6" stroke-width="0.75"/>
<circle cx="274.73" cy="164.72" r="1.6" fill="none" stroke="#8dbae6" stroke-width="0.75"/>
<circle cx="274.73" cy="157.11" r="1.6" fill="none" stroke="#8dbae6" stroke-width="0.75"/>
<circle cx="274.73" cy="149.5" r="1.6" fill="none" stroke="#8dbae6" stroke-width="0.75"/>
<circle cx="282.34" cy="271.3" r="1.6" fill="none" stroke="#8dbae6" stroke-width="0.75"/>
<circle cx="282.34" cy="263.69" r="1.6" fill="none" stroke="#8dbae6" stroke-width="0.75"/>
<circle cx="282.34" cy="256.07" r="1.6" fill="none" stroke="#8dbae6" stroke-width="0.75"/>
<circle cx="282.34" cy="248.46" r="1.6" fill="none" stroke="#8dbae6" stroke-width="0.75"/>
<circle cx="282.34" cy="240.85" r="1.6" fill="none" stroke="#8dbae6" stroke-width="0.75"/>
<circle cx="282.34" cy="233.24" r="1.6" fill="none" stroke="#8dbae6" stroke-width="0.75"/>
<circle cx="282.34" cy="225.62" r="1.6" fill="none" stroke="#8dbae6" stroke-width="0.75"/>
<circle cx="282.34" cy="218.01" r="1.6" fill="none" stroke="#8dbae6" stroke-width="0.75"/>
<circle cx="282.34" cy="210.4" r="1.6" fill="none" stroke="#8dbae6" stroke-width="0.75"/>
<circle cx="282.34" cy="202.79" r="1.6" fill="none" stroke="#8dbae6" stroke-width="0.75"/>
<circle cx="282.34" cy="195.18" r="1.6" fill="none" stroke="#8dbae6" stroke-width="0.75"/>
<circle cx="282.34" cy="187.56" r="1.6" fill="none" stroke="#8dbae6" stroke-width="0.75"/>
<circle cx="282.34" cy="179.95" r="1.6" fill="none" stroke="#8dbae6" stroke-width="0.75"/>
<circle cx="282.34" cy="172.34" r="1.6" fill="none" stroke="#8dbae6" stroke-width="0.75"/>
<circle cx="282.34" cy="164.72" r="1.6" fill="none" stroke="#8dbae6" stroke-width="0.75"/>
<circle cx="282.34" cy="157.11" r="1.6" fill="none" stroke="#8dbae6" stroke-width="0.75"/>
<circle cx="282.34" cy="149.5" r="1.6" fill="none" stroke="#8dbae6" stroke-width="0.75"/>
<circle cx="289.94" cy="271.3" r="1.6" fill="none" stroke="#8dbae6" stroke-width="0.75"/>
<circle cx="289.94" cy="263.69" r="1.6" fill="none" stroke="#8dbae6" stroke-width="0.75"/>
<circle cx="289.94" cy="256.07" r="1.6" fill="none" stroke="#8dbae6" stroke-width="0.75"/>
<circle cx="289.94" cy="248.46" r="1.6" fill="none" stroke="#8dbae6" stroke-width="0.75"/>
<circle cx="289.94" cy="240.85" r="1.6" fill="none" stroke="#8dbae6" stroke-width="0.75"/>
<circle cx="289.94" cy="233.24" r="1.6" fill="none" stroke="#8dbae6" stroke-width="0.75"/>
<circle cx="289.94" cy="225.62" r="1.6" fill="none" stroke="#8dbae6" stroke-width="0.75"/>
<circle cx="289.94" cy="218.01" r="1.6" fill="none" stroke="#8dbae6" stroke-width="0.75"/>
<circle cx="289.94" cy="210.4" r="1.6" fill="none" stroke="#8dbae6" stroke-width="0.75"/>
<circle cx="289.94" cy="202.79" r="1.6" fill="none" stroke="#8dbae6" stroke-width="0.75"/>
<circle cx="289.94" cy="195.18" r="1.6" fill="none" stroke="#8dbae6" stroke-width="0.75"/>
<circle cx="289.94" cy="187.56" r="1.6" fill="none" stroke="#8dbae6" stroke-width="0.75"/>
<circle cx="289.94" cy="179.95" r="1.6" fill="none" stroke="#8dbae6" stroke-width="0.75"/>
<circle cx="289.94" cy="172.34" r="1.6" fill="none" stroke="#8dbae6" stroke-width="0.75"/>
<circle cx="289.94" cy="164.72" r="1.6" fill="none" stroke="#8dbae6" stroke-width="0.75"/>
<circle cx="289.94" cy="157.11" r="1.6" fill="none" stroke="#8dbae6" stroke-width="0.75"/>
<circle cx="289.94" cy="149.5" r="1.6" fill="none" stroke="#8dbae6" stroke-width="0.75"/>
<circle cx="297.55" cy="271.3" r="1.6" fill="none" stroke="#8dbae6" stroke-width="0.75"/>
<circle cx="297.55" cy="263.69" r="1.6" fill="none" stroke="#8dbae6" stroke-width="0.75"/>
<circle cx="297.55" cy="256.07" r="1.6" fill="none" stroke="#8dbae6" stroke-width="0.75"/>
<circle cx="297.55" cy="248.46" r="1.6" fill="none" stroke="#8dbae6" stroke-width="0.75"/>
<circle cx="297.55" cy="240.85" r="1.6" fill="none" stroke="#8dbae6" stroke-width="0.75"/>
<circle cx="297.55" cy="233.24" r="1.6" fill="none" stroke="#8dbae6" stroke-width="0.75"/>
<circle cx="297.55" cy="225.62" r="1.6" fill="none" stroke="#8dbae6" stroke-width="0.75"/>
<circle cx="297.55" cy="218.01" r="1.6" fill="none" stroke="#8dbae6" stroke-width="0.75"/>
<circle cx="297.55" cy="210.4" r="1.6" fill="none" stroke="#8dbae6" stroke-width="0.75"/>
<circle cx="297.55" cy="202.79" r="1.6" fill="none" stroke="#8dbae6" stroke-width="0.75"/>
<circle cx="297.55" cy="195.18" r="1.6" fill="none" stroke="#8dbae6" stroke-width="0.75"/>
<circle cx="297.55" cy="187.56" r="1.6" fill="none" stroke="#8dbae6" stroke-width="0.75"/>
<circle cx="297.55" cy="179.95" r="1.6" fill="none" stroke="#8dbae6" stroke-width="0.75"/>
<circle cx="297.55" cy="172.34" r="1.6" fill="none" stroke="#8dbae6" stroke-width="0.75"/>
<circle cx="297.55" cy="164.72" r="1.6" fill="none" stroke="#8dbae6" stroke-width="0.75"/>
<circle cx="297.55" cy="157.11" r="1.6" fill="none" stroke="#8dbae6" stroke-width="0.75"/>
<circle cx="297.55" cy="149.5" r="1.6" fill="none" stroke="#8dbae6" stroke-width="0.75"/>
<circle cx="305.16" cy="263.69" r="1.6" fill="none" stroke="#8dbae6" stroke-width="0.75"/>
<circle cx="305.16" cy="256.07" r="1.6" fill="none" stroke="#8dbae6" stroke-width="0.75"/>
<circle cx="305.16" cy="248.46" r="1.6" fill="none" stroke="#8dbae6" stroke-width="0.75"/>
<circle cx="305.16" cy="240.85" r="1.6" fill="none" stroke="#8dbae6" stroke-width="0.75"/>
<circle cx="305.16" cy="233.24" r="1.6" fill="none" stroke="#8dbae6" stroke-width="0.75"/>
<circle cx="305.16" cy="225.62" r="1.6" fill="none" stroke="#8dbae6" stroke-width="0.75"/>
<circle cx="305.16" cy="218.01" r="1.6" fill="none" stroke="#8dbae6" stroke-width="0.75"/>
<circle cx="305.16" cy="210.4" r="1.6" fill="none" stroke="#8dbae6" stroke-width="0.75"/>
<circle cx="305.16" cy="202.79" r="1.6" fill="none" stroke="#8dbae6" stroke-width="0.75"/>
<circle cx="305.16" cy="195.18" r="1.6" fill="none" stroke="#8dbae6" stroke-width="0.75"/>
<circle cx="305.16" cy="187.56" r="1.6" fill="none" stroke="#8dbae6" stroke-width="0.75"/>
<circle cx="305.16" cy="179.95" r="1.6" fill="none" stroke="#8dbae6" stroke-width="0.75"/>
<circle cx="305.16" cy="172.34" r="1.6" fill="none" stroke="#8dbae6" stroke-width="0.75"/>
<circle cx="305.16" cy="164.72" r="1.6" fill="none" stroke="#8dbae6" stroke-width="0.75"/>
<circle cx="305.16" cy="157.11" r="1.6" fill="none" stroke="#8dbae6" stroke-width="0.75"/>
<circle cx="312.76" cy="263.69" r="1.6" fill="none" stroke="#8dbae6" stroke-width="0.75"/>
<circle cx="312.76" cy="256.07" r="1.6" fill="none" stroke="#8dbae6" stroke-width="0.75"/>
<circle cx="312.76" cy="248.46" r="1.6" fill="none" stroke="#8dbae6" stroke-width="0.75"/>
<circle cx="312.76" cy="240.85" r="1.6" fill="none" stroke="#8dbae6" stroke-width="0.75"/>
<circle cx="312.76" cy="233.24" r="1.6" fill="none" stroke="#8dbae6" stroke-width="0.75"/>
<circle cx="312.76" cy="225.62" r="1.6" fill="none" stroke="#8dbae6" stroke-width="0.75"/>
<circle cx="312.76" cy="218.01" r="1.6" fill="none" stroke="#8dbae6" stroke-width="0.75"/>
<circle cx="312.76" cy="210.4" r="1.6" fill="none" stroke="#8dbae6" stroke-width="0.75"/>
<circle cx="312.76" cy="202.79" r="1.6" fill="none" stroke="#8dbae6" stroke-width="0.75"/>
<circle cx="312.76" cy="195.18" r="1.6" fill="none" stroke="#8dbae6" stroke-width="0.75"/>
<circle cx="312.76" cy="187.56" r="1.6" fill="none" stroke="#8dbae6" stroke-width="0.75"/>
<circle cx="312.76" cy="179.95" r="1.6" fill="none" stroke="#8dbae6" stroke-width="0.75"/>
<circle cx="312.76" cy="172.34" r="1.6" fill="none" stroke="#8dbae6" stroke-width="0.75"/>
<circle cx="312.76" cy="164.72" r="1.6" fill="none" stroke="#8dbae6" stroke-width="0.75"/>
<circle cx="312.76" cy="157.11" r="1.6" fill="none" stroke="#8dbae6" stroke-width="0.75"/>
<circle cx="320.37" cy="256.07" r="1.6" fill="none" stroke="#8dbae6" stroke-width="0.75"/>
<circle cx="320.37" cy="248.46" r="1.6" fill="none" stroke="#8dbae6" stroke-width="0.75"/>
<circle cx="320.37" cy="240.85" r="1.6" fill="none" stroke="#8dbae6" stroke-width="0.75"/>
<circle cx="320.37" cy="233.24" r="1.6" fill="none" stroke="#8dbae6" stroke-width="0.75"/>
<circle cx="320.37" cy="225.62" r="1.6" fill="none" stroke="#8dbae6" stroke-width="0.75"/>
<circle cx="320.37" cy="218.01" r="1.6" fill="none" stroke="#8dbae6" stroke-width="0.75"/>
<circle cx="320.37" cy="210.4" r="1.6" fill="none" stroke="#8dbae6" stroke-width="0.75"/>
<circle cx="320.37" cy="202.79" r="1.6" fill="none" stroke="#8dbae6" stroke-width="0.75"/>
<circle cx="320.37" cy="195.18" r="1.6" fill="none" stroke="#8dbae6" stroke-width="0.75"/>
<circle cx="320.37" cy="187.56" r="1.6" fill="none" stroke="#8dbae6" stroke-width="0.75"/>
<circle cx="320.37" cy="179.95" r="1.6" fill="none" stroke="#8dbae6" stroke-width="0.75"/>
<circle cx="320.37" cy="172.34" r="1.6" fill="none" stroke="#8dbae6" stroke-width="0.75"/>
<circle cx="320.37" cy="164.72" r="1.6" fill="none" stroke="#8dbae6" stroke-width="0.75"/>
<circle cx="327.98" cy="248.46" r="1.6" fill="none" stroke="#8dbae6" stroke-width="0.75"/>
<circle cx="327.98" cy="240.85" r="1.6" fill="none" stroke="#8dbae6" stroke-width="0.75"/>
<circle cx="327.98" cy="233.24" r="1.6" fill="none" stroke="#8dbae6" stroke-width="0.75"/>
<circle cx="327.98" cy="225.62" r="1.6" fill="none" stroke="#8dbae6" stroke-width="0.75"/>
<circle cx="327.98" cy="218.01" r="1.6" fill="none" stroke="#8dbae6" stroke-width="0.75"/>
<circle cx="327.98" cy="210.4" r="1.6" fill="none" stroke="#8dbae6" stroke-width="0.75"/>
<circle cx="327.98" cy="202.79" r="1.6" fill="none" stroke="#8dbae6" stroke-width="0.75"/>
<circle cx="327.98" cy="195.18" r="1.6" fill="none" stroke="#8dbae6" stroke-width="0.75"/>
<circle cx="327.98" cy="187.56" r="1.6" fill="none" stroke="#8dbae6" stroke-width="0.75"/>
<circle cx="327.98" cy="179.95" r="1.6" fill="none" stroke="#8dbae6" stroke-width="0.75"/>
<circle cx="327.98" cy="172.34" r="1.6" fill="none" stroke="#8dbae6" stroke-width="0.75"/>
<circle cx="335.59" cy="240.85" r="1.6" fill="none" stroke="#8dbae6" stroke-width="0.75"/>
<circle cx="335.59" cy="233.24" r="1.6" fill="none" stroke="#8dbae6" stroke-width="0.75"/>
<circle cx="335.59" cy="225.62" r="1.6" fill="none" stroke="#8dbae6" stroke-width="0.75"/>
<circle cx="335.59" cy="218.01" r="1.6" fill="none" stroke="#8dbae6" stroke-width="0.75"/>
<circle cx="335.59" cy="210.4" r="1.6" fill="none" stroke="#8dbae6" stroke-width="0.75"/>
<circle cx="335.59" cy="202.79" r="1.6" fill="none" stroke="#8dbae6" stroke-width="0.75"/>
<circle cx="335.59" cy="195.18" r="1.6" fill="none" stroke="#8dbae6" stroke-width="0.75"/>
<circle cx="335.59" cy="187.56" r="1.6" fill="none" stroke="#8dbae6" stroke-width="0.75"/>
<circle cx="335.59" cy="179.95" r="1.6" fill="none" stroke="#8dbae6" stroke-width="0.75"/>
<circle cx="343.19" cy="225.62" r="1.6" fill="none" stroke="#8dbae6" stroke-width="0.75"/>
<circle cx="343.19" cy="218.01" r="1.6" fill="none" stroke="#8dbae6" stroke-width="0.75"/>
<circle cx="343.19" cy="210.4" r="1.6" fill="none" stroke="#8dbae6" stroke-width="0.75"/>
<circle cx="343.19" cy="202.79" r="1.6" fill="none" stroke="#8dbae6" stroke-width="0.75"/>
<circle cx="343.19" cy="195.18" r="1.6" fill="none" stroke="#8dbae6" stroke-width="0.75"/>
<rect x="205.2" y="149.5" width="154.5" height="121.8" fill="none" stroke="#3a3a3a" stroke-width="0.9"/>
<line x1="221.48" y1="271.3" x2="221.48" y2="270" stroke="#3a3a3a" stroke-width="0.7"/>
<line x1="221.48" y1="149.5" x2="221.48" y2="150.8" stroke="#3a3a3a" stroke-width="0.7"/>
<text x="221.48" y="276.8" font-family="Liberation Sans, sans-serif" font-size="5.0" font-weight="normal" fill="#333333" text-anchor="middle" dominant-baseline="central" stroke="#333333" stroke-width="0.22">25</text>
<line x1="259.51" y1="271.3" x2="259.51" y2="270" stroke="#3a3a3a" stroke-width="0.7"/>
<line x1="259.51" y1="149.5" x2="259.51" y2="150.8" stroke="#3a3a3a" stroke-width="0.7"/>
<text x="259.51" y="276.8" font-family="Liberation Sans, sans-serif" font-size="5.0" font-weight="normal" fill="#333333" text-anchor="middle" dominant-baseline="central" stroke="#333333" stroke-width="0.22">30</text>
<line x1="297.55" y1="271.3" x2="297.55" y2="270" stroke="#3a3a3a" stroke-width="0.7"/>
<line x1="297.55" y1="149.5" x2="297.55" y2="150.8" stroke="#3a3a3a" stroke-width="0.7"/>
<text x="297.55" y="276.8" font-family="Liberation Sans, sans-serif" font-size="5.0" font-weight="normal" fill="#333333" text-anchor="middle" dominant-baseline="central" stroke="#333333" stroke-width="0.22">35</text>
<line x1="335.59" y1="271.3" x2="335.59" y2="270" stroke="#3a3a3a" stroke-width="0.7"/>
<line x1="335.59" y1="149.5" x2="335.59" y2="150.8" stroke="#3a3a3a" stroke-width="0.7"/>
<text x="335.59" y="276.8" font-family="Liberation Sans, sans-serif" font-size="5.0" font-weight="normal" fill="#333333" text-anchor="middle" dominant-baseline="central" stroke="#333333" stroke-width="0.22">40</text>
<line x1="205.2" y1="271.3" x2="206.5" y2="271.3" stroke="#3a3a3a" stroke-width="0.7"/>
<line x1="359.7" y1="271.3" x2="358.4" y2="271.3" stroke="#3a3a3a" stroke-width="0.7"/>
<text x="202.8" y="272.1" font-family="Liberation Sans, sans-serif" font-size="5.0" font-weight="normal" fill="#333333" text-anchor="end" dominant-baseline="central" stroke="#333333" stroke-width="0.22">25</text>
<line x1="205.2" y1="233.24" x2="206.5" y2="233.24" stroke="#3a3a3a" stroke-width="0.7"/>
<line x1="359.7" y1="233.24" x2="358.4" y2="233.24" stroke="#3a3a3a" stroke-width="0.7"/>
<text x="202.8" y="234.04" font-family="Liberation Sans, sans-serif" font-size="5.0" font-weight="normal" fill="#333333" text-anchor="end" dominant-baseline="central" stroke="#333333" stroke-width="0.22">30</text>
<line x1="205.2" y1="195.18" x2="206.5" y2="195.18" stroke="#3a3a3a" stroke-width="0.7"/>
<line x1="359.7" y1="195.18" x2="358.4" y2="195.18" stroke="#3a3a3a" stroke-width="0.7"/>
<text x="202.8" y="195.98" font-family="Liberation Sans, sans-serif" font-size="5.0" font-weight="normal" fill="#333333" text-anchor="end" dominant-baseline="central" stroke="#333333" stroke-width="0.22">35</text>
<line x1="205.2" y1="157.11" x2="206.5" y2="157.11" stroke="#3a3a3a" stroke-width="0.7"/>
<line x1="359.7" y1="157.11" x2="358.4" y2="157.11" stroke="#3a3a3a" stroke-width="0.7"/>
<text x="202.8" y="157.91" font-family="Liberation Sans, sans-serif" font-size="5.0" font-weight="normal" fill="#333333" text-anchor="end" dominant-baseline="central" stroke="#333333" stroke-width="0.22">40</text>
<text x="282.5" y="285.5" font-family="Liberation Sans, sans-serif" font-size="5.6" font-weight="bold" fill="#333333" text-anchor="middle" dominant-baseline="central">X</text>
<text x="191.7" y="210.6" font-family="Liberation Sans, sans-serif" font-size="5.6" font-weight="bold" fill="#333333" text-anchor="middle" dominant-baseline="central" transform="rotate(-90 191.7 210.6)">Y</text>
<line x1="388.5" y1="147.5" x2="388.5" y2="270.7" stroke="#eeeeee" stroke-width="0.5" stroke-dasharray="0.6 0.9"/>
<line x1="392.35" y1="147.5" x2="392.35" y2="270.7" stroke="#eeeeee" stroke-width="0.5" stroke-dasharray="0.6 0.9"/>
<line x1="400.04" y1="147.5" x2="400.04" y2="270.7" stroke="#eeeeee" stroke-width="0.5" stroke-dasharray="0.6 0.9"/>
<line x1="403.88" y1="147.5" x2="403.88" y2="270.7" stroke="#eeeeee" stroke-width="0.5" stroke-dasharray="0.6 0.9"/>
<line x1="407.73" y1="147.5" x2="407.73" y2="270.7" stroke="#eeeeee" stroke-width="0.5" stroke-dasharray="0.6 0.9"/>
<line x1="415.42" y1="147.5" x2="415.42" y2="270.7" stroke="#eeeeee" stroke-width="0.5" stroke-dasharray="0.6 0.9"/>
<line x1="419.27" y1="147.5" x2="419.27" y2="270.7" stroke="#eeeeee" stroke-width="0.5" stroke-dasharray="0.6 0.9"/>
<line x1="423.12" y1="147.5" x2="423.12" y2="270.7" stroke="#eeeeee" stroke-width="0.5" stroke-dasharray="0.6 0.9"/>
<line x1="430.81" y1="147.5" x2="430.81" y2="270.7" stroke="#eeeeee" stroke-width="0.5" stroke-dasharray="0.6 0.9"/>
<line x1="434.65" y1="147.5" x2="434.65" y2="270.7" stroke="#eeeeee" stroke-width="0.5" stroke-dasharray="0.6 0.9"/>
<line x1="438.5" y1="147.5" x2="438.5" y2="270.7" stroke="#eeeeee" stroke-width="0.5" stroke-dasharray="0.6 0.9"/>
<line x1="446.19" y1="147.5" x2="446.19" y2="270.7" stroke="#eeeeee" stroke-width="0.5" stroke-dasharray="0.6 0.9"/>
<line x1="450.04" y1="147.5" x2="450.04" y2="270.7" stroke="#eeeeee" stroke-width="0.5" stroke-dasharray="0.6 0.9"/>
<line x1="453.88" y1="147.5" x2="453.88" y2="270.7" stroke="#eeeeee" stroke-width="0.5" stroke-dasharray="0.6 0.9"/>
<line x1="461.58" y1="147.5" x2="461.58" y2="270.7" stroke="#eeeeee" stroke-width="0.5" stroke-dasharray="0.6 0.9"/>
<line x1="465.42" y1="147.5" x2="465.42" y2="270.7" stroke="#eeeeee" stroke-width="0.5" stroke-dasharray="0.6 0.9"/>
<line x1="469.27" y1="147.5" x2="469.27" y2="270.7" stroke="#eeeeee" stroke-width="0.5" stroke-dasharray="0.6 0.9"/>
<line x1="476.96" y1="147.5" x2="476.96" y2="270.7" stroke="#eeeeee" stroke-width="0.5" stroke-dasharray="0.6 0.9"/>
<line x1="480.81" y1="147.5" x2="480.81" y2="270.7" stroke="#eeeeee" stroke-width="0.5" stroke-dasharray="0.6 0.9"/>
<line x1="484.65" y1="147.5" x2="484.65" y2="270.7" stroke="#eeeeee" stroke-width="0.5" stroke-dasharray="0.6 0.9"/>
<line x1="492.35" y1="147.5" x2="492.35" y2="270.7" stroke="#eeeeee" stroke-width="0.5" stroke-dasharray="0.6 0.9"/>
<line x1="496.19" y1="147.5" x2="496.19" y2="270.7" stroke="#eeeeee" stroke-width="0.5" stroke-dasharray="0.6 0.9"/>
<line x1="500.04" y1="147.5" x2="500.04" y2="270.7" stroke="#eeeeee" stroke-width="0.5" stroke-dasharray="0.6 0.9"/>
<line x1="507.73" y1="147.5" x2="507.73" y2="270.7" stroke="#eeeeee" stroke-width="0.5" stroke-dasharray="0.6 0.9"/>
<line x1="511.58" y1="147.5" x2="511.58" y2="270.7" stroke="#eeeeee" stroke-width="0.5" stroke-dasharray="0.6 0.9"/>
<line x1="515.42" y1="147.5" x2="515.42" y2="270.7" stroke="#eeeeee" stroke-width="0.5" stroke-dasharray="0.6 0.9"/>
<line x1="523.12" y1="147.5" x2="523.12" y2="270.7" stroke="#eeeeee" stroke-width="0.5" stroke-dasharray="0.6 0.9"/>
<line x1="526.96" y1="147.5" x2="526.96" y2="270.7" stroke="#eeeeee" stroke-width="0.5" stroke-dasharray="0.6 0.9"/>
<line x1="530.81" y1="147.5" x2="530.81" y2="270.7" stroke="#eeeeee" stroke-width="0.5" stroke-dasharray="0.6 0.9"/>
<line x1="538.5" y1="147.5" x2="538.5" y2="270.7" stroke="#eeeeee" stroke-width="0.5" stroke-dasharray="0.6 0.9"/>
<line x1="542.35" y1="147.5" x2="542.35" y2="270.7" stroke="#eeeeee" stroke-width="0.5" stroke-dasharray="0.6 0.9"/>
<line x1="387.5" y1="263" x2="543.5" y2="263" stroke="#eeeeee" stroke-width="0.5" stroke-dasharray="0.6 0.9"/>
<line x1="387.5" y1="255.3" x2="543.5" y2="255.3" stroke="#eeeeee" stroke-width="0.5" stroke-dasharray="0.6 0.9"/>
<line x1="387.5" y1="247.6" x2="543.5" y2="247.6" stroke="#eeeeee" stroke-width="0.5" stroke-dasharray="0.6 0.9"/>
<line x1="387.5" y1="239.9" x2="543.5" y2="239.9" stroke="#eeeeee" stroke-width="0.5" stroke-dasharray="0.6 0.9"/>
<line x1="387.5" y1="224.5" x2="543.5" y2="224.5" stroke="#eeeeee" stroke-width="0.5" stroke-dasharray="0.6 0.9"/>
<line x1="387.5" y1="216.8" x2="543.5" y2="216.8" stroke="#eeeeee" stroke-width="0.5" stroke-dasharray="0.6 0.9"/>
<line x1="387.5" y1="209.1" x2="543.5" y2="209.1" stroke="#eeeeee" stroke-width="0.5" stroke-dasharray="0.6 0.9"/>
<line x1="387.5" y1="201.4" x2="543.5" y2="201.4" stroke="#eeeeee" stroke-width="0.5" stroke-dasharray="0.6 0.9"/>
<line x1="387.5" y1="186" x2="543.5" y2="186" stroke="#eeeeee" stroke-width="0.5" stroke-dasharray="0.6 0.9"/>
<line x1="387.5" y1="178.3" x2="543.5" y2="178.3" stroke="#eeeeee" stroke-width="0.5" stroke-dasharray="0.6 0.9"/>
<line x1="387.5" y1="170.6" x2="543.5" y2="170.6" stroke="#eeeeee" stroke-width="0.5" stroke-dasharray="0.6 0.9"/>
<line x1="387.5" y1="162.9" x2="543.5" y2="162.9" stroke="#eeeeee" stroke-width="0.5" stroke-dasharray="0.6 0.9"/>
<line x1="387.5" y1="147.5" x2="543.5" y2="147.5" stroke="#eeeeee" stroke-width="0.5" stroke-dasharray="0.6 0.9"/>
<line x1="396.19" y1="147.5" x2="396.19" y2="270.7" stroke="#e8e8e8" stroke-width="0.5"/>
<line x1="411.58" y1="147.5" x2="411.58" y2="270.7" stroke="#e8e8e8" stroke-width="0.5"/>
<line x1="426.96" y1="147.5" x2="426.96" y2="270.7" stroke="#e8e8e8" stroke-width="0.5"/>
<line x1="442.35" y1="147.5" x2="442.35" y2="270.7" stroke="#e8e8e8" stroke-width="0.5"/>
<line x1="457.73" y1="147.5" x2="457.73" y2="270.7" stroke="#e8e8e8" stroke-width="0.5"/>
<line x1="473.12" y1="147.5" x2="473.12" y2="270.7" stroke="#e8e8e8" stroke-width="0.5"/>
<line x1="488.5" y1="147.5" x2="488.5" y2="270.7" stroke="#e8e8e8" stroke-width="0.5"/>
<line x1="503.88" y1="147.5" x2="503.88" y2="270.7" stroke="#e8e8e8" stroke-width="0.5"/>
<line x1="519.27" y1="147.5" x2="519.27" y2="270.7" stroke="#e8e8e8" stroke-width="0.5"/>
<line x1="534.65" y1="147.5" x2="534.65" y2="270.7" stroke="#e8e8e8" stroke-width="0.5"/>
<line x1="387.5" y1="270.7" x2="543.5" y2="270.7" stroke="#e8e8e8" stroke-width="0.5"/>
<line x1="387.5" y1="232.2" x2="543.5" y2="232.2" stroke="#e8e8e8" stroke-width="0.5"/>
<line x1="387.5" y1="193.7" x2="543.5" y2="193.7" stroke="#e8e8e8" stroke-width="0.5"/>
<line x1="387.5" y1="155.2" x2="543.5" y2="155.2" stroke="#e8e8e8" stroke-width="0.5"/>
<circle cx="403.88" cy="270.7" r="1.6" fill="none" stroke="#8dbae6" stroke-width="0.75"/>
<circle cx="403.88" cy="263" r="1.6" fill="none" stroke="#8dbae6" stroke-width="0.75"/>
<circle cx="403.88" cy="255.3" r="1.6" fill="none" stroke="#8dbae6" stroke-width="0.75"/>
<circle cx="403.88" cy="247.6" r="1.6" fill="none" stroke="#8dbae6" stroke-width="0.75"/>
<circle cx="403.88" cy="239.9" r="1.6" fill="none" stroke="#8dbae6" stroke-width="0.75"/>
<circle cx="403.88" cy="232.2" r="1.6" fill="none" stroke="#8dbae6" stroke-width="0.75"/>
<circle cx="403.88" cy="224.5" r="1.6" fill="none" stroke="#8dbae6" stroke-width="0.75"/>
<circle cx="403.88" cy="216.8" r="1.6" fill="none" stroke="#8dbae6" stroke-width="0.75"/>
<circle cx="403.88" cy="209.1" r="1.6" fill="none" stroke="#8dbae6" stroke-width="0.75"/>
<circle cx="403.88" cy="201.4" r="1.6" fill="none" stroke="#8dbae6" stroke-width="0.75"/>
<circle cx="403.88" cy="193.7" r="1.6" fill="none" stroke="#8dbae6" stroke-width="0.75"/>
<circle cx="403.88" cy="186" r="1.6" fill="none" stroke="#8dbae6" stroke-width="0.75"/>
<circle cx="403.88" cy="178.3" r="1.6" fill="none" stroke="#8dbae6" stroke-width="0.75"/>
<circle cx="403.88" cy="170.6" r="1.6" fill="none" stroke="#8dbae6" stroke-width="0.75"/>
<circle cx="403.88" cy="162.9" r="1.6" fill="none" stroke="#8dbae6" stroke-width="0.75"/>
<circle cx="403.88" cy="155.2" r="1.6" fill="none" stroke="#8dbae6" stroke-width="0.75"/>
<circle cx="403.88" cy="147.5" r="1.6" fill="none" stroke="#8dbae6" stroke-width="0.75"/>
<circle cx="411.58" cy="270.7" r="1.6" fill="none" stroke="#8dbae6" stroke-width="0.75"/>
<circle cx="411.58" cy="263" r="1.6" fill="none" stroke="#8dbae6" stroke-width="0.75"/>
<circle cx="411.58" cy="255.3" r="1.6" fill="none" stroke="#8dbae6" stroke-width="0.75"/>
<circle cx="411.58" cy="247.6" r="1.6" fill="none" stroke="#8dbae6" stroke-width="0.75"/>
<circle cx="411.58" cy="239.9" r="1.6" fill="none" stroke="#8dbae6" stroke-width="0.75"/>
<circle cx="411.58" cy="232.2" r="1.6" fill="none" stroke="#8dbae6" stroke-width="0.75"/>
<circle cx="411.58" cy="224.5" r="1.6" fill="none" stroke="#8dbae6" stroke-width="0.75"/>
<circle cx="411.58" cy="216.8" r="1.6" fill="none" stroke="#8dbae6" stroke-width="0.75"/>
<circle cx="411.58" cy="209.1" r="1.6" fill="none" stroke="#8dbae6" stroke-width="0.75"/>
<circle cx="411.58" cy="201.4" r="1.6" fill="none" stroke="#8dbae6" stroke-width="0.75"/>
<circle cx="411.58" cy="193.7" r="1.6" fill="none" stroke="#8dbae6" stroke-width="0.75"/>
<circle cx="411.58" cy="186" r="1.6" fill="none" stroke="#8dbae6" stroke-width="0.75"/>
<circle cx="411.58" cy="178.3" r="1.6" fill="none" stroke="#8dbae6" stroke-width="0.75"/>
<circle cx="411.58" cy="170.6" r="1.6" fill="none" stroke="#8dbae6" stroke-width="0.75"/>
<circle cx="411.58" cy="162.9" r="1.6" fill="none" stroke="#8dbae6" stroke-width="0.75"/>
<circle cx="411.58" cy="155.2" r="1.6" fill="none" stroke="#8dbae6" stroke-width="0.75"/>
<circle cx="411.58" cy="147.5" r="1.6" fill="none" stroke="#8dbae6" stroke-width="0.75"/>
<circle cx="419.27" cy="270.7" r="1.6" fill="none" stroke="#8dbae6" stroke-width="0.75"/>
<circle cx="419.27" cy="263" r="1.6" fill="none" stroke="#8dbae6" stroke-width="0.75"/>
<circle cx="419.27" cy="255.3" r="1.6" fill="none" stroke="#8dbae6" stroke-width="0.75"/>
<circle cx="419.27" cy="247.6" r="1.6" fill="none" stroke="#8dbae6" stroke-width="0.75"/>
<circle cx="419.27" cy="239.9" r="1.6" fill="none" stroke="#8dbae6" stroke-width="0.75"/>
<circle cx="419.27" cy="232.2" r="1.6" fill="none" stroke="#8dbae6" stroke-width="0.75"/>
<circle cx="419.27" cy="224.5" r="1.6" fill="none" stroke="#8dbae6" stroke-width="0.75"/>
<circle cx="419.27" cy="216.8" r="1.6" fill="none" stroke="#8dbae6" stroke-width="0.75"/>
<circle cx="419.27" cy="209.1" r="1.6" fill="none" stroke="#8dbae6" stroke-width="0.75"/>
<circle cx="419.27" cy="201.4" r="1.6" fill="none" stroke="#8dbae6" stroke-width="0.75"/>
<circle cx="419.27" cy="193.7" r="1.6" fill="none" stroke="#8dbae6" stroke-width="0.75"/>
<circle cx="419.27" cy="186" r="1.6" fill="none" stroke="#8dbae6" stroke-width="0.75"/>
<circle cx="419.27" cy="178.3" r="1.6" fill="none" stroke="#8dbae6" stroke-width="0.75"/>
<circle cx="419.27" cy="170.6" r="1.6" fill="none" stroke="#8dbae6" stroke-width="0.75"/>
<circle cx="419.27" cy="162.9" r="1.6" fill="none" stroke="#8dbae6" stroke-width="0.75"/>
<circle cx="419.27" cy="155.2" r="1.6" fill="none" stroke="#8dbae6" stroke-width="0.75"/>
<circle cx="419.27" cy="147.5" r="1.6" fill="none" stroke="#8dbae6" stroke-width="0.75"/>
<circle cx="426.96" cy="270.7" r="1.6" fill="none" stroke="#8dbae6" stroke-width="0.75"/>
<circle cx="426.96" cy="263" r="1.6" fill="none" stroke="#8dbae6" stroke-width="0.75"/>
<circle cx="426.96" cy="255.3" r="1.6" fill="none" stroke="#8dbae6" stroke-width="0.75"/>
<circle cx="426.96" cy="247.6" r="1.6" fill="none" stroke="#8dbae6" stroke-width="0.75"/>
<circle cx="426.96" cy="239.9" r="1.6" fill="none" stroke="#8dbae6" stroke-width="0.75"/>
<circle cx="426.96" cy="232.2" r="1.6" fill="none" stroke="#8dbae6" stroke-width="0.75"/>
<circle cx="426.96" cy="224.5" r="1.6" fill="none" stroke="#8dbae6" stroke-width="0.75"/>
<circle cx="426.96" cy="216.8" r="1.6" fill="none" stroke="#8dbae6" stroke-width="0.75"/>
<circle cx="426.96" cy="209.1" r="1.6" fill="none" stroke="#8dbae6" stroke-width="0.75"/>
<circle cx="426.96" cy="201.4" r="1.6" fill="none" stroke="#8dbae6" stroke-width="0.75"/>
<circle cx="426.96" cy="193.7" r="1.6" fill="none" stroke="#8dbae6" stroke-width="0.75"/>
<circle cx="426.96" cy="186" r="1.6" fill="none" stroke="#8dbae6" stroke-width="0.75"/>
<circle cx="426.96" cy="178.3" r="1.6" fill="none" stroke="#8dbae6" stroke-width="0.75"/>
<circle cx="426.96" cy="170.6" r="1.6" fill="none" stroke="#8dbae6" stroke-width="0.75"/>
<circle cx="426.96" cy="162.9" r="1.6" fill="none" stroke="#8dbae6" stroke-width="0.75"/>
<circle cx="426.96" cy="155.2" r="1.6" fill="none" stroke="#8dbae6" stroke-width="0.75"/>
<circle cx="426.96" cy="147.5" r="1.6" fill="none" stroke="#8dbae6" stroke-width="0.75"/>
<circle cx="434.65" cy="270.7" r="1.6" fill="none" stroke="#8dbae6" stroke-width="0.75"/>
<circle cx="434.65" cy="263" r="1.6" fill="none" stroke="#8dbae6" stroke-width="0.75"/>
<circle cx="434.65" cy="255.3" r="1.6" fill="none" stroke="#8dbae6" stroke-width="0.75"/>
<circle cx="434.65" cy="247.6" r="1.6" fill="none" stroke="#8dbae6" stroke-width="0.75"/>
<circle cx="434.65" cy="239.9" r="1.6" fill="none" stroke="#8dbae6" stroke-width="0.75"/>
<circle cx="434.65" cy="232.2" r="1.6" fill="none" stroke="#8dbae6" stroke-width="0.75"/>
<circle cx="434.65" cy="224.5" r="1.6" fill="none" stroke="#8dbae6" stroke-width="0.75"/>
<circle cx="434.65" cy="216.8" r="1.6" fill="none" stroke="#8dbae6" stroke-width="0.75"/>
<circle cx="434.65" cy="209.1" r="1.6" fill="none" stroke="#8dbae6" stroke-width="0.75"/>
<circle cx="434.65" cy="201.4" r="1.6" fill="none" stroke="#8dbae6" stroke-width="0.75"/>
<circle cx="434.65" cy="193.7" r="1.6" fill="none" stroke="#8dbae6" stroke-width="0.75"/>
<circle cx="434.65" cy="186" r="1.6" fill="none" stroke="#8dbae6" stroke-width="0.75"/>
<circle cx="434.65" cy="178.3" r="1.6" fill="none" stroke="#8dbae6" stroke-width="0.75"/>
<circle cx="434.65" cy="170.6" r="1.6" fill="none" stroke="#8dbae6" stroke-width="0.75"/>
<circle cx="434.65" cy="162.9" r="1.6" fill="none" stroke="#8dbae6" stroke-width="0.75"/>
<circle cx="434.65" cy="155.2" r="1.6" fill="none" stroke="#8dbae6" stroke-width="0.75"/>
<circle cx="434.65" cy="147.5" r="1.6" fill="none" stroke="#8dbae6" stroke-width="0.75"/>
<circle cx="442.35" cy="270.7" r="1.6" fill="none" stroke="#8dbae6" stroke-width="0.75"/>
<circle cx="442.35" cy="263" r="1.6" fill="none" stroke="#8dbae6" stroke-width="0.75"/>
<circle cx="442.35" cy="255.3" r="1.6" fill="none" stroke="#8dbae6" stroke-width="0.75"/>
<circle cx="442.35" cy="247.6" r="1.6" fill="none" stroke="#8dbae6" stroke-width="0.75"/>
<circle cx="442.35" cy="239.9" r="1.6" fill="none" stroke="#8dbae6" stroke-width="0.75"/>
<circle cx="442.35" cy="232.2" r="1.6" fill="none" stroke="#8dbae6" stroke-width="0.75"/>
<circle cx="442.35" cy="224.5" r="1.6" fill="none" stroke="#8dbae6" stroke-width="0.75"/>
<circle cx="442.35" cy="216.8" r="1.6" fill="none" stroke="#8dbae6" stroke-width="0.75"/>
<circle cx="442.35" cy="209.1" r="1.6" fill="none" stroke="#8dbae6" stroke-width="0.75"/>
<circle cx="442.35" cy="201.4" r="1.6" fill="none" stroke="#8dbae6" stroke-width="0.75"/>
<circle cx="442.35" cy="193.7" r="1.6" fill="none" stroke="#8dbae6" stroke-width="0.75"/>
<circle cx="442.35" cy="186" r="1.6" fill="none" stroke="#8dbae6" stroke-width="0.75"/>
<circle cx="442.35" cy="178.3" r="1.6" fill="none" stroke="#8dbae6" stroke-width="0.75"/>
<circle cx="442.35" cy="170.6" r="1.6" fill="none" stroke="#8dbae6" stroke-width="0.75"/>
<circle cx="442.35" cy="162.9" r="1.6" fill="none" stroke="#8dbae6" stroke-width="0.75"/>
<circle cx="442.35" cy="155.2" r="1.6" fill="none" stroke="#8dbae6" stroke-width="0.75"/>
<circle cx="442.35" cy="147.5" r="1.6" fill="none" stroke="#8dbae6" stroke-width="0.75"/>
<circle cx="450.04" cy="270.7" r="1.6" fill="none" stroke="#8dbae6" stroke-width="0.75"/>
<circle cx="450.04" cy="263" r="1.6" fill="none" stroke="#8dbae6" stroke-width="0.75"/>
<circle cx="450.04" cy="255.3" r="1.6" fill="none" stroke="#8dbae6" stroke-width="0.75"/>
<circle cx="450.04" cy="247.6" r="1.6" fill="none" stroke="#8dbae6" stroke-width="0.75"/>
<circle cx="450.04" cy="239.9" r="1.6" fill="none" stroke="#8dbae6" stroke-width="0.75"/>
<circle cx="450.04" cy="232.2" r="1.6" fill="none" stroke="#8dbae6" stroke-width="0.75"/>
<circle cx="450.04" cy="224.5" r="1.6" fill="none" stroke="#8dbae6" stroke-width="0.75"/>
<circle cx="450.04" cy="216.8" r="1.6" fill="none" stroke="#8dbae6" stroke-width="0.75"/>
<circle cx="450.04" cy="209.1" r="1.6" fill="none" stroke="#8dbae6" stroke-width="0.75"/>
<circle cx="450.04" cy="201.4" r="1.6" fill="none" stroke="#8dbae6" stroke-width="0.75"/>
<circle cx="450.04" cy="193.7" r="1.6" fill="none" stroke="#8dbae6" stroke-width="0.75"/>
<circle cx="450.04" cy="186" r="1.6" fill="none" stroke="#8dbae6" stroke-width="0.75"/>
<circle cx="450.04" cy="178.3" r="1.6" fill="none" stroke="#8dbae6" stroke-width="0.75"/>
<circle cx="450.04" cy="170.6" r="1.6" fill="none" stroke="#8dbae6" stroke-width="0.75"/>
<circle cx="450.04" cy="162.9" r="1.6" fill="none" stroke="#8dbae6" stroke-width="0.75"/>
<circle cx="450.04" cy="155.2" r="1.6" fill="none" stroke="#8dbae6" stroke-width="0.75"/>
<circle cx="450.04" cy="147.5" r="1.6" fill="none" stroke="#8dbae6" stroke-width="0.75"/>
<circle cx="457.73" cy="270.7" r="1.6" fill="none" stroke="#8dbae6" stroke-width="0.75"/>
<circle cx="457.73" cy="263" r="1.6" fill="none" stroke="#8dbae6" stroke-width="0.75"/>
<circle cx="457.73" cy="255.3" r="1.6" fill="none" stroke="#8dbae6" stroke-width="0.75"/>
<circle cx="457.73" cy="247.6" r="1.6" fill="none" stroke="#8dbae6" stroke-width="0.75"/>
<circle cx="457.73" cy="239.9" r="1.6" fill="none" stroke="#8dbae6" stroke-width="0.75"/>
<circle cx="457.73" cy="232.2" r="1.6" fill="none" stroke="#8dbae6" stroke-width="0.75"/>
<circle cx="457.73" cy="224.5" r="1.6" fill="none" stroke="#8dbae6" stroke-width="0.75"/>
<circle cx="457.73" cy="216.8" r="1.6" fill="none" stroke="#8dbae6" stroke-width="0.75"/>
<circle cx="457.73" cy="209.1" r="1.6" fill="none" stroke="#8dbae6" stroke-width="0.75"/>
<circle cx="457.73" cy="201.4" r="1.6" fill="none" stroke="#8dbae6" stroke-width="0.75"/>
<circle cx="457.73" cy="193.7" r="1.6" fill="none" stroke="#8dbae6" stroke-width="0.75"/>
<circle cx="457.73" cy="186" r="1.6" fill="none" stroke="#8dbae6" stroke-width="0.75"/>
<circle cx="457.73" cy="178.3" r="1.6" fill="none" stroke="#8dbae6" stroke-width="0.75"/>
<circle cx="457.73" cy="170.6" r="1.6" fill="none" stroke="#8dbae6" stroke-width="0.75"/>
<circle cx="457.73" cy="162.9" r="1.6" fill="none" stroke="#8dbae6" stroke-width="0.75"/>
<circle cx="457.73" cy="155.2" r="1.6" fill="none" stroke="#8dbae6" stroke-width="0.75"/>
<circle cx="457.73" cy="147.5" r="1.6" fill="none" stroke="#8dbae6" stroke-width="0.75"/>
<circle cx="465.42" cy="270.7" r="1.6" fill="none" stroke="#8dbae6" stroke-width="0.75"/>
<circle cx="465.42" cy="263" r="1.6" fill="none" stroke="#8dbae6" stroke-width="0.75"/>
<circle cx="465.42" cy="255.3" r="1.6" fill="none" stroke="#8dbae6" stroke-width="0.75"/>
<circle cx="465.42" cy="247.6" r="1.6" fill="none" stroke="#8dbae6" stroke-width="0.75"/>
<circle cx="465.42" cy="239.9" r="1.6" fill="none" stroke="#8dbae6" stroke-width="0.75"/>
<circle cx="465.42" cy="232.2" r="1.6" fill="none" stroke="#8dbae6" stroke-width="0.75"/>
<circle cx="465.42" cy="224.5" r="1.6" fill="none" stroke="#8dbae6" stroke-width="0.75"/>
<circle cx="465.42" cy="216.8" r="1.6" fill="none" stroke="#8dbae6" stroke-width="0.75"/>
<circle cx="465.42" cy="209.1" r="1.6" fill="none" stroke="#8dbae6" stroke-width="0.75"/>
<circle cx="465.42" cy="201.4" r="1.6" fill="none" stroke="#8dbae6" stroke-width="0.75"/>
<circle cx="465.42" cy="193.7" r="1.6" fill="none" stroke="#8dbae6" stroke-width="0.75"/>
<circle cx="465.42" cy="186" r="1.6" fill="none" stroke="#8dbae6" stroke-width="0.75"/>
<circle cx="465.42" cy="178.3" r="1.6" fill="none" stroke="#8dbae6" stroke-width="0.75"/>
<circle cx="465.42" cy="170.6" r="1.6" fill="none" stroke="#8dbae6" stroke-width="0.75"/>
<circle cx="465.42" cy="162.9" r="1.6" fill="none" stroke="#8dbae6" stroke-width="0.75"/>
<circle cx="465.42" cy="155.2" r="1.6" fill="none" stroke="#8dbae6" stroke-width="0.75"/>
<circle cx="465.42" cy="147.5" r="1.6" fill="none" stroke="#8dbae6" stroke-width="0.75"/>
<circle cx="473.12" cy="270.7" r="1.6" fill="none" stroke="#8dbae6" stroke-width="0.75"/>
<circle cx="473.12" cy="263" r="1.6" fill="none" stroke="#8dbae6" stroke-width="0.75"/>
<circle cx="473.12" cy="255.3" r="1.6" fill="none" stroke="#8dbae6" stroke-width="0.75"/>
<circle cx="473.12" cy="247.6" r="1.6" fill="none" stroke="#8dbae6" stroke-width="0.75"/>
<circle cx="473.12" cy="239.9" r="1.6" fill="none" stroke="#8dbae6" stroke-width="0.75"/>
<circle cx="473.12" cy="232.2" r="1.6" fill="none" stroke="#8dbae6" stroke-width="0.75"/>
<circle cx="473.12" cy="224.5" r="1.6" fill="none" stroke="#8dbae6" stroke-width="0.75"/>
<circle cx="473.12" cy="216.8" r="1.6" fill="none" stroke="#8dbae6" stroke-width="0.75"/>
<circle cx="473.12" cy="209.1" r="1.6" fill="none" stroke="#8dbae6" stroke-width="0.75"/>
<circle cx="473.12" cy="201.4" r="1.6" fill="none" stroke="#8dbae6" stroke-width="0.75"/>
<circle cx="473.12" cy="193.7" r="1.6" fill="none" stroke="#8dbae6" stroke-width="0.75"/>
<circle cx="473.12" cy="186" r="1.6" fill="none" stroke="#8dbae6" stroke-width="0.75"/>
<circle cx="473.12" cy="178.3" r="1.6" fill="none" stroke="#8dbae6" stroke-width="0.75"/>
<circle cx="473.12" cy="170.6" r="1.6" fill="none" stroke="#8dbae6" stroke-width="0.75"/>
<circle cx="473.12" cy="162.9" r="1.6" fill="none" stroke="#8dbae6" stroke-width="0.75"/>
<circle cx="473.12" cy="155.2" r="1.6" fill="none" stroke="#8dbae6" stroke-width="0.75"/>
<circle cx="473.12" cy="147.5" r="1.6" fill="none" stroke="#8dbae6" stroke-width="0.75"/>
<circle cx="480.81" cy="270.7" r="1.6" fill="none" stroke="#8dbae6" stroke-width="0.75"/>
<circle cx="480.81" cy="263" r="1.6" fill="none" stroke="#8dbae6" stroke-width="0.75"/>
<circle cx="480.81" cy="255.3" r="1.6" fill="none" stroke="#8dbae6" stroke-width="0.75"/>
<circle cx="480.81" cy="247.6" r="1.6" fill="none" stroke="#8dbae6" stroke-width="0.75"/>
<circle cx="480.81" cy="239.9" r="1.6" fill="none" stroke="#8dbae6" stroke-width="0.75"/>
<circle cx="480.81" cy="232.2" r="1.6" fill="none" stroke="#8dbae6" stroke-width="0.75"/>
<circle cx="480.81" cy="224.5" r="1.6" fill="none" stroke="#8dbae6" stroke-width="0.75"/>
<circle cx="480.81" cy="216.8" r="1.6" fill="none" stroke="#8dbae6" stroke-width="0.75"/>
<circle cx="480.81" cy="209.1" r="1.6" fill="none" stroke="#8dbae6" stroke-width="0.75"/>
<circle cx="480.81" cy="201.4" r="1.6" fill="none" stroke="#8dbae6" stroke-width="0.75"/>
<circle cx="480.81" cy="193.7" r="1.6" fill="none" stroke="#8dbae6" stroke-width="0.75"/>
<circle cx="480.81" cy="186" r="1.6" fill="none" stroke="#8dbae6" stroke-width="0.75"/>
<circle cx="480.81" cy="178.3" r="1.6" fill="none" stroke="#8dbae6" stroke-width="0.75"/>
<circle cx="480.81" cy="170.6" r="1.6" fill="none" stroke="#8dbae6" stroke-width="0.75"/>
<circle cx="480.81" cy="162.9" r="1.6" fill="none" stroke="#8dbae6" stroke-width="0.75"/>
<circle cx="480.81" cy="155.2" r="1.6" fill="none" stroke="#8dbae6" stroke-width="0.75"/>
<circle cx="480.81" cy="147.5" r="1.6" fill="none" stroke="#8dbae6" stroke-width="0.75"/>
<circle cx="488.5" cy="270.7" r="1.6" fill="none" stroke="#8dbae6" stroke-width="0.75"/>
<circle cx="488.5" cy="263" r="1.6" fill="none" stroke="#8dbae6" stroke-width="0.75"/>
<circle cx="488.5" cy="255.3" r="1.6" fill="none" stroke="#8dbae6" stroke-width="0.75"/>
<circle cx="488.5" cy="247.6" r="1.6" fill="none" stroke="#8dbae6" stroke-width="0.75"/>
<circle cx="488.5" cy="239.9" r="1.6" fill="none" stroke="#8dbae6" stroke-width="0.75"/>
<circle cx="488.5" cy="232.2" r="1.6" fill="none" stroke="#8dbae6" stroke-width="0.75"/>
<circle cx="488.5" cy="224.5" r="1.6" fill="none" stroke="#8dbae6" stroke-width="0.75"/>
<circle cx="488.5" cy="216.8" r="1.6" fill="none" stroke="#8dbae6" stroke-width="0.75"/>
<circle cx="488.5" cy="209.1" r="1.6" fill="none" stroke="#8dbae6" stroke-width="0.75"/>
<circle cx="488.5" cy="201.4" r="1.6" fill="none" stroke="#8dbae6" stroke-width="0.75"/>
<circle cx="488.5" cy="193.7" r="1.6" fill="none" stroke="#8dbae6" stroke-width="0.75"/>
<circle cx="488.5" cy="186" r="1.6" fill="none" stroke="#8dbae6" stroke-width="0.75"/>
<circle cx="488.5" cy="178.3" r="1.6" fill="none" stroke="#8dbae6" stroke-width="0.75"/>
<circle cx="488.5" cy="170.6" r="1.6" fill="none" stroke="#8dbae6" stroke-width="0.75"/>
<circle cx="488.5" cy="162.9" r="1.6" fill="none" stroke="#8dbae6" stroke-width="0.75"/>
<circle cx="488.5" cy="155.2" r="1.6" fill="none" stroke="#8dbae6" stroke-width="0.75"/>
<circle cx="488.5" cy="147.5" r="1.6" fill="none" stroke="#8dbae6" stroke-width="0.75"/>
<circle cx="496.19" cy="270.7" r="1.6" fill="none" stroke="#8dbae6" stroke-width="0.75"/>
<circle cx="496.19" cy="263" r="1.6" fill="none" stroke="#8dbae6" stroke-width="0.75"/>
<circle cx="496.19" cy="255.3" r="1.6" fill="none" stroke="#8dbae6" stroke-width="0.75"/>
<circle cx="496.19" cy="247.6" r="1.6" fill="none" stroke="#8dbae6" stroke-width="0.75"/>
<circle cx="496.19" cy="239.9" r="1.6" fill="none" stroke="#8dbae6" stroke-width="0.75"/>
<circle cx="496.19" cy="232.2" r="1.6" fill="none" stroke="#8dbae6" stroke-width="0.75"/>
<circle cx="496.19" cy="224.5" r="1.6" fill="none" stroke="#8dbae6" stroke-width="0.75"/>
<circle cx="496.19" cy="216.8" r="1.6" fill="none" stroke="#8dbae6" stroke-width="0.75"/>
<circle cx="496.19" cy="209.1" r="1.6" fill="none" stroke="#8dbae6" stroke-width="0.75"/>
<circle cx="496.19" cy="201.4" r="1.6" fill="none" stroke="#8dbae6" stroke-width="0.75"/>
<circle cx="496.19" cy="193.7" r="1.6" fill="none" stroke="#8dbae6" stroke-width="0.75"/>
<circle cx="496.19" cy="186" r="1.6" fill="none" stroke="#8dbae6" stroke-width="0.75"/>
<circle cx="496.19" cy="178.3" r="1.6" fill="none" stroke="#8dbae6" stroke-width="0.75"/>
<circle cx="496.19" cy="170.6" r="1.6" fill="none" stroke="#8dbae6" stroke-width="0.75"/>
<circle cx="496.19" cy="162.9" r="1.6" fill="none" stroke="#8dbae6" stroke-width="0.75"/>
<circle cx="496.19" cy="155.2" r="1.6" fill="none" stroke="#8dbae6" stroke-width="0.75"/>
<circle cx="496.19" cy="147.5" r="1.6" fill="none" stroke="#8dbae6" stroke-width="0.75"/>
<circle cx="503.88" cy="270.7" r="1.6" fill="none" stroke="#8dbae6" stroke-width="0.75"/>
<circle cx="503.88" cy="263" r="1.6" fill="none" stroke="#8dbae6" stroke-width="0.75"/>
<circle cx="503.88" cy="255.3" r="1.6" fill="none" stroke="#8dbae6" stroke-width="0.75"/>
<circle cx="503.88" cy="247.6" r="1.6" fill="none" stroke="#8dbae6" stroke-width="0.75"/>
<circle cx="503.88" cy="239.9" r="1.6" fill="none" stroke="#8dbae6" stroke-width="0.75"/>
<circle cx="503.88" cy="232.2" r="1.6" fill="none" stroke="#8dbae6" stroke-width="0.75"/>
<circle cx="503.88" cy="224.5" r="1.6" fill="none" stroke="#8dbae6" stroke-width="0.75"/>
<circle cx="503.88" cy="216.8" r="1.6" fill="none" stroke="#8dbae6" stroke-width="0.75"/>
<circle cx="503.88" cy="209.1" r="1.6" fill="none" stroke="#8dbae6" stroke-width="0.75"/>
<circle cx="503.88" cy="201.4" r="1.6" fill="none" stroke="#8dbae6" stroke-width="0.75"/>
<circle cx="503.88" cy="193.7" r="1.6" fill="none" stroke="#8dbae6" stroke-width="0.75"/>
<circle cx="503.88" cy="186" r="1.6" fill="none" stroke="#8dbae6" stroke-width="0.75"/>
<circle cx="503.88" cy="178.3" r="1.6" fill="none" stroke="#8dbae6" stroke-width="0.75"/>
<circle cx="503.88" cy="170.6" r="1.6" fill="none" stroke="#8dbae6" stroke-width="0.75"/>
<circle cx="503.88" cy="162.9" r="1.6" fill="none" stroke="#8dbae6" stroke-width="0.75"/>
<circle cx="503.88" cy="155.2" r="1.6" fill="none" stroke="#8dbae6" stroke-width="0.75"/>
<circle cx="503.88" cy="147.5" r="1.6" fill="none" stroke="#8dbae6" stroke-width="0.75"/>
<circle cx="511.58" cy="270.7" r="1.6" fill="none" stroke="#8dbae6" stroke-width="0.75"/>
<circle cx="511.58" cy="263" r="1.6" fill="none" stroke="#8dbae6" stroke-width="0.75"/>
<circle cx="511.58" cy="255.3" r="1.6" fill="none" stroke="#8dbae6" stroke-width="0.75"/>
<circle cx="511.58" cy="247.6" r="1.6" fill="none" stroke="#8dbae6" stroke-width="0.75"/>
<circle cx="511.58" cy="239.9" r="1.6" fill="none" stroke="#8dbae6" stroke-width="0.75"/>
<circle cx="511.58" cy="232.2" r="1.6" fill="none" stroke="#8dbae6" stroke-width="0.75"/>
<circle cx="511.58" cy="224.5" r="1.6" fill="none" stroke="#8dbae6" stroke-width="0.75"/>
<circle cx="511.58" cy="216.8" r="1.6" fill="none" stroke="#8dbae6" stroke-width="0.75"/>
<circle cx="511.58" cy="209.1" r="1.6" fill="none" stroke="#8dbae6" stroke-width="0.75"/>
<circle cx="511.58" cy="201.4" r="1.6" fill="none" stroke="#8dbae6" stroke-width="0.75"/>
<circle cx="511.58" cy="193.7" r="1.6" fill="none" stroke="#8dbae6" stroke-width="0.75"/>
<circle cx="511.58" cy="186" r="1.6" fill="none" stroke="#8dbae6" stroke-width="0.75"/>
<circle cx="511.58" cy="178.3" r="1.6" fill="none" stroke="#8dbae6" stroke-width="0.75"/>
<circle cx="511.58" cy="170.6" r="1.6" fill="none" stroke="#8dbae6" stroke-width="0.75"/>
<circle cx="511.58" cy="162.9" r="1.6" fill="none" stroke="#8dbae6" stroke-width="0.75"/>
<circle cx="511.58" cy="155.2" r="1.6" fill="none" stroke="#8dbae6" stroke-width="0.75"/>
<circle cx="511.58" cy="147.5" r="1.6" fill="none" stroke="#8dbae6" stroke-width="0.75"/>
<circle cx="519.27" cy="270.7" r="1.6" fill="none" stroke="#8dbae6" stroke-width="0.75"/>
<circle cx="519.27" cy="263" r="1.6" fill="none" stroke="#8dbae6" stroke-width="0.75"/>
<circle cx="519.27" cy="255.3" r="1.6" fill="none" stroke="#8dbae6" stroke-width="0.75"/>
<circle cx="519.27" cy="247.6" r="1.6" fill="none" stroke="#8dbae6" stroke-width="0.75"/>
<circle cx="519.27" cy="239.9" r="1.6" fill="none" stroke="#8dbae6" stroke-width="0.75"/>
<circle cx="519.27" cy="232.2" r="1.6" fill="none" stroke="#8dbae6" stroke-width="0.75"/>
<circle cx="519.27" cy="224.5" r="1.6" fill="none" stroke="#8dbae6" stroke-width="0.75"/>
<circle cx="519.27" cy="216.8" r="1.6" fill="none" stroke="#8dbae6" stroke-width="0.75"/>
<circle cx="519.27" cy="209.1" r="1.6" fill="none" stroke="#8dbae6" stroke-width="0.75"/>
<circle cx="519.27" cy="201.4" r="1.6" fill="none" stroke="#8dbae6" stroke-width="0.75"/>
<circle cx="519.27" cy="193.7" r="1.6" fill="none" stroke="#8dbae6" stroke-width="0.75"/>
<circle cx="519.27" cy="186" r="1.6" fill="none" stroke="#8dbae6" stroke-width="0.75"/>
<circle cx="519.27" cy="178.3" r="1.6" fill="none" stroke="#8dbae6" stroke-width="0.75"/>
<circle cx="519.27" cy="170.6" r="1.6" fill="none" stroke="#8dbae6" stroke-width="0.75"/>
<circle cx="519.27" cy="162.9" r="1.6" fill="none" stroke="#8dbae6" stroke-width="0.75"/>
<circle cx="519.27" cy="155.2" r="1.6" fill="none" stroke="#8dbae6" stroke-width="0.75"/>
<circle cx="519.27" cy="147.5" r="1.6" fill="none" stroke="#8dbae6" stroke-width="0.75"/>
<circle cx="526.96" cy="270.7" r="1.6" fill="none" stroke="#8dbae6" stroke-width="0.75"/>
<circle cx="526.96" cy="263" r="1.6" fill="none" stroke="#8dbae6" stroke-width="0.75"/>
<circle cx="526.96" cy="255.3" r="1.6" fill="none" stroke="#8dbae6" stroke-width="0.75"/>
<circle cx="526.96" cy="247.6" r="1.6" fill="none" stroke="#8dbae6" stroke-width="0.75"/>
<circle cx="526.96" cy="239.9" r="1.6" fill="none" stroke="#8dbae6" stroke-width="0.75"/>
<circle cx="526.96" cy="232.2" r="1.6" fill="none" stroke="#8dbae6" stroke-width="0.75"/>
<circle cx="526.96" cy="224.5" r="1.6" fill="none" stroke="#8dbae6" stroke-width="0.75"/>
<circle cx="526.96" cy="216.8" r="1.6" fill="none" stroke="#8dbae6" stroke-width="0.75"/>
<circle cx="526.96" cy="209.1" r="1.6" fill="none" stroke="#8dbae6" stroke-width="0.75"/>
<circle cx="526.96" cy="201.4" r="1.6" fill="none" stroke="#8dbae6" stroke-width="0.75"/>
<circle cx="526.96" cy="193.7" r="1.6" fill="none" stroke="#8dbae6" stroke-width="0.75"/>
<circle cx="526.96" cy="186" r="1.6" fill="none" stroke="#8dbae6" stroke-width="0.75"/>
<circle cx="526.96" cy="178.3" r="1.6" fill="none" stroke="#8dbae6" stroke-width="0.75"/>
<circle cx="526.96" cy="170.6" r="1.6" fill="none" stroke="#8dbae6" stroke-width="0.75"/>
<circle cx="526.96" cy="162.9" r="1.6" fill="none" stroke="#8dbae6" stroke-width="0.75"/>
<circle cx="526.96" cy="155.2" r="1.6" fill="none" stroke="#8dbae6" stroke-width="0.75"/>
<circle cx="526.96" cy="147.5" r="1.6" fill="none" stroke="#8dbae6" stroke-width="0.75"/>
<rect x="387.5" y="147.5" width="156" height="123.2" fill="none" stroke="#3a3a3a" stroke-width="0.9"/>
<line x1="396.19" y1="270.7" x2="396.19" y2="269.4" stroke="#3a3a3a" stroke-width="0.7"/>
<line x1="396.19" y1="147.5" x2="396.19" y2="148.8" stroke="#3a3a3a" stroke-width="0.7"/>
<text x="396.19" y="276.2" font-family="Liberation Sans, sans-serif" font-size="5.0" font-weight="normal" fill="#333333" text-anchor="middle" dominant-baseline="central" stroke="#333333" stroke-width="0.22">24</text>
<line x1="411.58" y1="270.7" x2="411.58" y2="269.4" stroke="#3a3a3a" stroke-width="0.7"/>
<line x1="411.58" y1="147.5" x2="411.58" y2="148.8" stroke="#3a3a3a" stroke-width="0.7"/>
<text x="411.58" y="276.2" font-family="Liberation Sans, sans-serif" font-size="5.0" font-weight="normal" fill="#333333" text-anchor="middle" dominant-baseline="central" stroke="#333333" stroke-width="0.22">26</text>
<line x1="426.96" y1="270.7" x2="426.96" y2="269.4" stroke="#3a3a3a" stroke-width="0.7"/>
<line x1="426.96" y1="147.5" x2="426.96" y2="148.8" stroke="#3a3a3a" stroke-width="0.7"/>
<text x="426.96" y="276.2" font-family="Liberation Sans, sans-serif" font-size="5.0" font-weight="normal" fill="#333333" text-anchor="middle" dominant-baseline="central" stroke="#333333" stroke-width="0.22">28</text>
<line x1="442.35" y1="270.7" x2="442.35" y2="269.4" stroke="#3a3a3a" stroke-width="0.7"/>
<line x1="442.35" y1="147.5" x2="442.35" y2="148.8" stroke="#3a3a3a" stroke-width="0.7"/>
<text x="442.35" y="276.2" font-family="Liberation Sans, sans-serif" font-size="5.0" font-weight="normal" fill="#333333" text-anchor="middle" dominant-baseline="central" stroke="#333333" stroke-width="0.22">30</text>
<line x1="457.73" y1="270.7" x2="457.73" y2="269.4" stroke="#3a3a3a" stroke-width="0.7"/>
<line x1="457.73" y1="147.5" x2="457.73" y2="148.8" stroke="#3a3a3a" stroke-width="0.7"/>
<text x="457.73" y="276.2" font-family="Liberation Sans, sans-serif" font-size="5.0" font-weight="normal" fill="#333333" text-anchor="middle" dominant-baseline="central" stroke="#333333" stroke-width="0.22">32</text>
<line x1="473.12" y1="270.7" x2="473.12" y2="269.4" stroke="#3a3a3a" stroke-width="0.7"/>
<line x1="473.12" y1="147.5" x2="473.12" y2="148.8" stroke="#3a3a3a" stroke-width="0.7"/>
<text x="473.12" y="276.2" font-family="Liberation Sans, sans-serif" font-size="5.0" font-weight="normal" fill="#333333" text-anchor="middle" dominant-baseline="central" stroke="#333333" stroke-width="0.22">34</text>
<line x1="488.5" y1="270.7" x2="488.5" y2="269.4" stroke="#3a3a3a" stroke-width="0.7"/>
<line x1="488.5" y1="147.5" x2="488.5" y2="148.8" stroke="#3a3a3a" stroke-width="0.7"/>
<text x="488.5" y="276.2" font-family="Liberation Sans, sans-serif" font-size="5.0" font-weight="normal" fill="#333333" text-anchor="middle" dominant-baseline="central" stroke="#333333" stroke-width="0.22">36</text>
<line x1="503.88" y1="270.7" x2="503.88" y2="269.4" stroke="#3a3a3a" stroke-width="0.7"/>
<line x1="503.88" y1="147.5" x2="503.88" y2="148.8" stroke="#3a3a3a" stroke-width="0.7"/>
<text x="503.88" y="276.2" font-family="Liberation Sans, sans-serif" font-size="5.0" font-weight="normal" fill="#333333" text-anchor="middle" dominant-baseline="central" stroke="#333333" stroke-width="0.22">38</text>
<line x1="519.27" y1="270.7" x2="519.27" y2="269.4" stroke="#3a3a3a" stroke-width="0.7"/>
<line x1="519.27" y1="147.5" x2="519.27" y2="148.8" stroke="#3a3a3a" stroke-width="0.7"/>
<text x="519.27" y="276.2" font-family="Liberation Sans, sans-serif" font-size="5.0" font-weight="normal" fill="#333333" text-anchor="middle" dominant-baseline="central" stroke="#333333" stroke-width="0.22">40</text>
<line x1="534.65" y1="270.7" x2="534.65" y2="269.4" stroke="#3a3a3a" stroke-width="0.7"/>
<line x1="534.65" y1="147.5" x2="534.65" y2="148.8" stroke="#3a3a3a" stroke-width="0.7"/>
<text x="534.65" y="276.2" font-family="Liberation Sans, sans-serif" font-size="5.0" font-weight="normal" fill="#333333" text-anchor="middle" dominant-baseline="central" stroke="#333333" stroke-width="0.22">42</text>
<line x1="387.5" y1="270.7" x2="388.8" y2="270.7" stroke="#3a3a3a" stroke-width="0.7"/>
<line x1="543.5" y1="270.7" x2="542.2" y2="270.7" stroke="#3a3a3a" stroke-width="0.7"/>
<text x="385.1" y="271.5" font-family="Liberation Sans, sans-serif" font-size="5.0" font-weight="normal" fill="#333333" text-anchor="end" dominant-baseline="central" stroke="#333333" stroke-width="0.22">25</text>
<line x1="387.5" y1="232.2" x2="388.8" y2="232.2" stroke="#3a3a3a" stroke-width="0.7"/>
<line x1="543.5" y1="232.2" x2="542.2" y2="232.2" stroke="#3a3a3a" stroke-width="0.7"/>
<text x="385.1" y="233" font-family="Liberation Sans, sans-serif" font-size="5.0" font-weight="normal" fill="#333333" text-anchor="end" dominant-baseline="central" stroke="#333333" stroke-width="0.22">30</text>
<line x1="387.5" y1="193.7" x2="388.8" y2="193.7" stroke="#3a3a3a" stroke-width="0.7"/>
<line x1="543.5" y1="193.7" x2="542.2" y2="193.7" stroke="#3a3a3a" stroke-width="0.7"/>
<text x="385.1" y="194.5" font-family="Liberation Sans, sans-serif" font-size="5.0" font-weight="normal" fill="#333333" text-anchor="end" dominant-baseline="central" stroke="#333333" stroke-width="0.22">35</text>
<line x1="387.5" y1="155.2" x2="388.8" y2="155.2" stroke="#3a3a3a" stroke-width="0.7"/>
<line x1="543.5" y1="155.2" x2="542.2" y2="155.2" stroke="#3a3a3a" stroke-width="0.7"/>
<text x="385.1" y="156" font-family="Liberation Sans, sans-serif" font-size="5.0" font-weight="normal" fill="#333333" text-anchor="end" dominant-baseline="central" stroke="#333333" stroke-width="0.22">40</text>
<text x="465.5" y="283.2" font-family="Liberation Sans, sans-serif" font-size="5.6" font-weight="bold" fill="#333333" text-anchor="middle" dominant-baseline="central">X</text>
<text x="373.5" y="209" font-family="Liberation Sans, sans-serif" font-size="5.6" font-weight="bold" fill="#333333" text-anchor="middle" dominant-baseline="central" transform="rotate(-90 373.5 209)">Y</text></g></svg></body></html>
